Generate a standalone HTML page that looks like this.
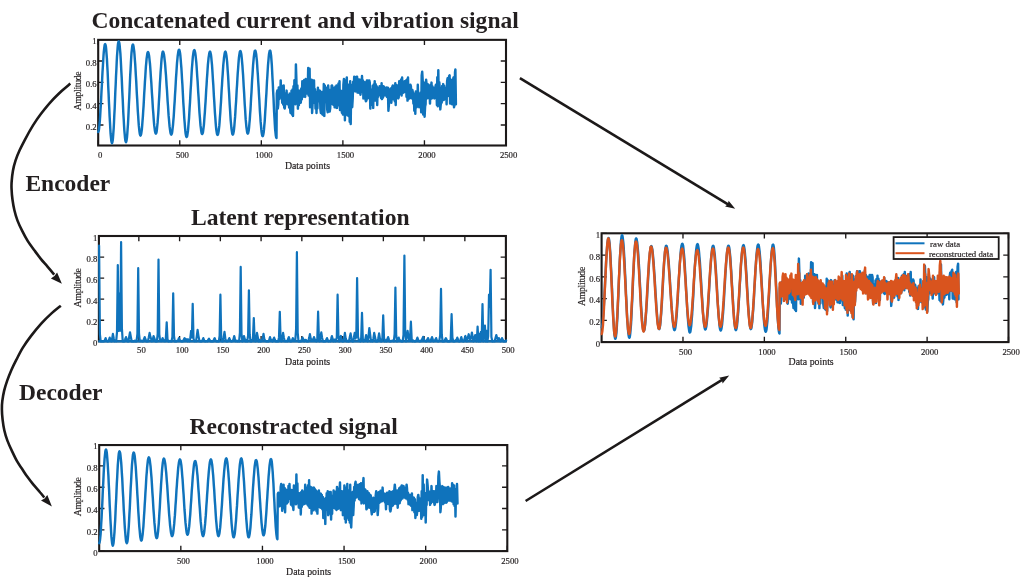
<!DOCTYPE html>
<html><head><meta charset="utf-8"><title>Autoencoder signal reconstruction</title>
<style>
html,body{margin:0;padding:0;background:#fff;}
body{width:1025px;height:582px;overflow:hidden;}
svg{display:block;}
.t{font-family:"Liberation Serif","Times New Roman",serif;font-weight:bold;font-size:23.5px;fill:#231f20;}
.s{font-family:"Liberation Serif","Times New Roman",serif;font-size:8.7px;fill:#231f20;stroke:#231f20;stroke-width:0.18px;}
.l{font-family:"Liberation Serif","Times New Roman",serif;font-size:9.85px;fill:#231f20;stroke:#231f20;stroke-width:0.18px;}
.sig{fill:none;stroke-linejoin:round;stroke-linecap:round;}
</style></head><body>
<svg width="1025" height="582" viewBox="0 0 1025 582">
<rect width="1025" height="582" fill="#fff"/>

<g class="t">
<text x="91.5" y="28" textLength="427.3" lengthAdjust="spacingAndGlyphs">Concatenated current and vibration signal</text>
<text x="25.4" y="190.7">Encoder</text>
<text x="190.9" y="225" textLength="218.7" lengthAdjust="spacingAndGlyphs">Latent representation</text>
<text x="19.0" y="399.5">Decoder</text>
<text x="189.5" y="433.7">Reconstracted signal</text>
</g>
<clipPath id="c1"><rect x="97.0" y="39.35" width="410.20" height="107.35"/></clipPath>
<clipPath id="c2"><rect x="97.89999999999999" y="235.5" width="409.40" height="107.00"/></clipPath>
<clipPath id="c3"><rect x="98.0" y="444.55" width="410.50" height="107.75"/></clipPath>
<clipPath id="c4"><rect x="600.4" y="232.8" width="409.30" height="110.50"/></clipPath>
<g id="plot1">
<rect x="98.2" y="39.85" width="407.80" height="105.65" fill="none" stroke="#1c1919" stroke-width="2.1"/>
<path d="M98.20,145.5v-5.25M98.20,39.85v5.25M179.76,145.5v-5.25M179.76,39.85v5.25M261.32,145.5v-5.25M261.32,39.85v5.25M342.88,145.5v-5.25M342.88,39.85v5.25M424.44,145.5v-5.25M424.44,39.85v5.25M506.00,145.5v-5.25M506.00,39.85v5.25M98.2,125.04h5.25M506.0,125.04h-5.25M98.2,103.68h5.25M506.0,103.68h-5.25M98.2,82.32h5.25M506.0,82.32h-5.25M98.2,60.96h5.25M506.0,60.96h-5.25M98.2,39.60h5.25M506.0,39.60h-5.25" stroke="#1c1919" stroke-width="1.35" fill="none"/>
<path class="sig" clip-path="url(#c1)" d="M98.2,131.9 L98.5,131.4 L98.9,129.9 L99.2,127.5 L99.5,124.3 L99.9,120.2 L100.2,115.4 L100.5,109.9 L100.9,104.0 L101.2,97.8 L101.5,91.3 L101.9,84.7 L102.2,78.2 L102.5,72.0 L102.9,66.1 L103.2,60.7 L103.5,55.8 L103.8,51.8 L104.2,48.5 L104.5,46.1 L104.8,44.6 L105.2,44.1 L105.5,44.7 L105.9,46.6 L106.2,49.5 L106.5,53.6 L106.9,58.6 L107.2,64.5 L107.6,71.2 L107.9,78.3 L108.2,85.9 L108.6,93.6 L108.9,101.4 L109.3,108.9 L109.6,116.1 L110.0,122.7 L110.3,128.6 L110.6,133.7 L111.0,137.7 L111.3,140.7 L111.7,142.5 L112.0,143.1 L112.3,142.5 L112.7,140.6 L113.0,137.6 L113.3,133.4 L113.7,128.2 L114.0,122.2 L114.3,115.3 L114.7,108.0 L115.0,100.2 L115.3,92.2 L115.7,84.3 L116.0,76.5 L116.4,69.1 L116.7,62.3 L117.0,56.3 L117.4,51.1 L117.7,46.9 L118.0,43.9 L118.4,42.0 L118.7,41.4 L119.0,41.9 L119.4,43.4 L119.7,45.9 L120.0,49.4 L120.4,53.7 L120.7,58.8 L121.0,64.5 L121.3,70.8 L121.7,77.6 L122.0,84.6 L122.3,91.8 L122.7,98.9 L123.0,105.9 L123.3,112.7 L123.7,119.0 L124.0,124.7 L124.3,129.8 L124.7,134.1 L125.0,137.6 L125.3,140.1 L125.7,141.6 L126.0,142.1 L126.3,141.6 L126.6,140.0 L127.0,137.3 L127.3,133.7 L127.6,129.1 L128.0,123.8 L128.3,117.7 L128.6,111.2 L128.9,104.2 L129.3,97.0 L129.6,89.7 L129.9,82.5 L130.2,75.5 L130.6,68.9 L130.9,62.9 L131.2,57.6 L131.5,53.0 L131.9,49.4 L132.2,46.7 L132.5,45.1 L132.9,44.5 L133.2,45.0 L133.5,46.2 L133.8,48.3 L134.2,51.2 L134.5,54.7 L134.8,59.0 L135.2,63.8 L135.5,69.1 L135.8,74.8 L136.2,80.8 L136.5,87.0 L136.8,93.2 L137.2,99.3 L137.5,105.3 L137.8,111.0 L138.2,116.3 L138.5,121.2 L138.8,125.4 L139.2,129.0 L139.5,131.8 L139.8,133.9 L140.2,135.2 L140.5,135.6 L140.8,135.2 L141.2,133.9 L141.5,131.8 L141.9,129.0 L142.2,125.4 L142.5,121.2 L142.9,116.4 L143.2,111.2 L143.6,105.6 L143.9,99.8 L144.2,93.8 L144.6,87.9 L144.9,82.1 L145.3,76.5 L145.6,71.2 L145.9,66.5 L146.3,62.3 L146.6,58.7 L147.0,55.8 L147.3,53.7 L147.6,52.5 L148.0,52.0 L148.3,52.4 L148.6,53.4 L149.0,55.2 L149.3,57.5 L149.6,60.5 L150.0,64.0 L150.3,68.0 L150.6,72.4 L150.9,77.2 L151.3,82.3 L151.6,87.5 L151.9,92.8 L152.3,98.2 L152.6,103.4 L152.9,108.5 L153.3,113.2 L153.6,117.7 L153.9,121.7 L154.2,125.2 L154.6,128.2 L154.9,130.5 L155.2,132.2 L155.6,133.3 L155.9,133.6 L156.2,133.2 L156.6,131.8 L156.9,129.6 L157.2,126.5 L157.6,122.7 L157.9,118.2 L158.3,113.1 L158.6,107.6 L158.9,101.8 L159.3,95.7 L159.6,89.6 L159.9,83.5 L160.3,77.7 L160.6,72.1 L161.0,67.1 L161.3,62.6 L161.6,58.8 L162.0,55.7 L162.3,53.5 L162.6,52.1 L163.0,51.6 L163.3,52.0 L163.6,53.0 L164.0,54.6 L164.3,56.8 L164.6,59.6 L165.0,62.9 L165.3,66.7 L165.6,70.9 L166.0,75.5 L166.3,80.3 L166.6,85.4 L167.0,90.5 L167.3,95.7 L167.6,100.9 L168.0,106.0 L168.3,110.8 L168.6,115.4 L169.0,119.6 L169.3,123.4 L169.6,126.7 L170.0,129.5 L170.3,131.7 L170.6,133.3 L171.0,134.3 L171.3,134.6 L171.6,134.2 L172.0,133.1 L172.3,131.1 L172.6,128.4 L173.0,125.1 L173.3,121.1 L173.7,116.6 L174.0,111.7 L174.3,106.4 L174.7,100.8 L175.0,95.0 L175.4,89.2 L175.7,83.5 L176.0,77.9 L176.4,72.6 L176.7,67.7 L177.0,63.2 L177.4,59.2 L177.7,55.9 L178.1,53.2 L178.4,51.2 L178.7,50.1 L179.1,49.7 L179.4,50.1 L179.7,51.3 L180.1,53.3 L180.4,56.0 L180.7,59.5 L181.0,63.5 L181.4,68.2 L181.7,73.2 L182.0,78.7 L182.4,84.5 L182.7,90.4 L183.0,96.3 L183.3,102.2 L183.7,108.0 L184.0,113.4 L184.3,118.5 L184.7,123.1 L185.0,127.2 L185.3,130.6 L185.6,133.4 L186.0,135.4 L186.3,136.6 L186.6,137.0 L187.0,136.6 L187.3,135.4 L187.6,133.4 L188.0,130.7 L188.3,127.2 L188.6,123.2 L189.0,118.6 L189.3,113.5 L189.6,108.1 L190.0,102.4 L190.3,96.5 L190.6,90.6 L191.0,84.7 L191.3,79.0 L191.6,73.5 L191.9,68.5 L192.3,63.9 L192.6,59.8 L192.9,56.4 L193.3,53.7 L193.6,51.7 L193.9,50.5 L194.3,50.1 L194.6,50.4 L194.9,51.5 L195.3,53.3 L195.6,55.7 L195.9,58.7 L196.3,62.4 L196.6,66.5 L196.9,71.1 L197.2,76.0 L197.6,81.2 L197.9,86.6 L198.2,92.0 L198.6,97.5 L198.9,102.9 L199.2,108.1 L199.5,113.0 L199.9,117.6 L200.2,121.7 L200.5,125.4 L200.9,128.4 L201.2,130.8 L201.5,132.6 L201.8,133.7 L202.2,134.0 L202.5,133.6 L202.9,132.5 L203.2,130.6 L203.5,128.0 L203.9,124.8 L204.2,121.0 L204.5,116.6 L204.9,111.8 L205.2,106.6 L205.6,101.2 L205.9,95.7 L206.2,90.0 L206.6,84.5 L206.9,79.0 L207.3,73.9 L207.6,69.1 L207.9,64.7 L208.3,60.9 L208.6,57.6 L209.0,55.1 L209.3,53.2 L209.6,52.0 L210.0,51.6 L210.3,52.0 L210.6,53.2 L211.0,55.1 L211.3,57.7 L211.6,61.0 L212.0,64.9 L212.3,69.3 L212.6,74.2 L212.9,79.4 L213.3,84.9 L213.6,90.5 L213.9,96.2 L214.3,101.8 L214.6,107.3 L214.9,112.5 L215.3,117.4 L215.6,121.8 L215.9,125.7 L216.2,129.0 L216.6,131.6 L216.9,133.5 L217.2,134.6 L217.6,135.0 L217.9,134.6 L218.2,133.5 L218.6,131.6 L218.9,129.0 L219.3,125.7 L219.6,121.8 L219.9,117.4 L220.3,112.5 L220.6,107.3 L221.0,101.8 L221.3,96.2 L221.6,90.5 L222.0,84.9 L222.3,79.4 L222.7,74.2 L223.0,69.3 L223.3,64.9 L223.7,61.0 L224.0,57.7 L224.4,55.1 L224.7,53.2 L225.0,52.0 L225.4,51.6 L225.7,52.1 L226.0,53.3 L226.4,55.4 L226.7,58.2 L227.1,61.8 L227.4,66.0 L227.7,70.7 L228.1,75.9 L228.4,81.4 L228.7,87.2 L229.1,93.1 L229.4,99.0 L229.7,104.8 L230.1,110.4 L230.4,115.6 L230.7,120.3 L231.1,124.5 L231.4,128.0 L231.8,130.9 L232.1,132.9 L232.4,134.2 L232.8,134.6 L233.1,134.2 L233.4,133.1 L233.8,131.2 L234.1,128.5 L234.4,125.3 L234.7,121.4 L235.1,116.9 L235.4,112.1 L235.7,106.8 L236.1,101.3 L236.4,95.7 L236.7,90.0 L237.1,84.3 L237.4,78.8 L237.7,73.6 L238.1,68.7 L238.4,64.3 L238.7,60.4 L239.0,57.1 L239.4,54.5 L239.7,52.6 L240.0,51.4 L240.4,51.1 L240.7,51.5 L241.0,52.7 L241.4,54.8 L241.7,57.6 L242.0,61.1 L242.4,65.3 L242.7,70.0 L243.1,75.2 L243.4,80.7 L243.7,86.5 L244.1,92.3 L244.4,98.2 L244.7,104.0 L245.1,109.5 L245.4,114.7 L245.7,119.4 L246.1,123.6 L246.4,127.1 L246.8,129.9 L247.1,132.0 L247.4,133.2 L247.8,133.6 L248.1,133.2 L248.4,132.0 L248.8,129.9 L249.1,127.0 L249.4,123.5 L249.8,119.3 L250.1,114.5 L250.5,109.3 L250.8,103.8 L251.1,98.0 L251.5,92.0 L251.8,86.1 L252.1,80.3 L252.5,74.8 L252.8,69.6 L253.1,64.8 L253.5,60.6 L253.8,57.1 L254.2,54.2 L254.5,52.1 L254.8,50.9 L255.2,50.5 L255.5,50.9 L255.8,52.2 L256.2,54.3 L256.5,57.3 L256.9,60.9 L257.2,65.3 L257.5,70.2 L257.9,75.5 L258.2,81.3 L258.6,87.2 L258.9,93.3 L259.3,99.4 L259.6,105.4 L259.9,111.1 L260.3,116.5 L260.6,121.4 L261.0,125.7 L261.3,129.4 L261.6,132.3 L262.0,134.5 L262.3,135.8 L262.7,136.2 L263.0,135.8 L263.3,134.5 L263.7,132.3 L264.0,129.4 L264.3,125.7 L264.7,121.4 L265.0,116.5 L265.3,111.1 L265.7,105.4 L266.0,99.4 L266.4,93.3 L266.7,87.2 L267.0,81.3 L267.4,75.5 L267.7,70.2 L268.0,65.3 L268.4,60.9 L268.7,57.3 L269.0,54.3 L269.4,52.2 L269.7,50.9 L270.1,50.5 L270.4,51.1 L270.7,52.8 L271.1,55.7 L271.4,59.7 L271.8,64.6 L272.1,70.3 L272.4,76.6 L272.8,83.5 L273.1,90.6 L273.5,97.8 L273.8,105.0 L274.1,111.8 L274.5,118.2 L274.8,123.9 L275.1,128.8 L275.5,132.7 L275.8,135.6 L276.2,137.4 L276.5,138.0 L276.8,93.5 L277.3,90.6 L277.8,108.6 L278.3,104.3 L278.8,87.4 L279.3,99.1 L279.8,88.3 L280.3,95.4 L280.7,80.4 L281.2,97.4 L281.7,88.2 L282.2,102.8 L282.7,86.1 L283.2,104.5 L283.7,85.5 L284.2,107.3 L284.7,108.6 L285.2,104.6 L285.6,93.2 L286.1,103.0 L286.6,90.6 L287.1,103.2 L287.6,104.2 L288.1,102.1 L288.6,94.9 L289.1,107.4 L289.6,93.6 L290.0,106.9 L290.5,113.0 L291.0,112.7 L291.5,90.7 L292.0,114.5 L292.5,89.5 L293.0,115.9 L293.5,86.3 L294.0,102.5 L294.4,80.3 L294.9,101.5 L295.4,104.2 L295.9,64.4 L296.4,80.3 L296.9,102.0 L297.4,85.5 L297.9,108.6 L298.4,92.0 L298.9,105.3 L299.3,90.6 L299.8,100.6 L300.3,91.0 L300.8,102.8 L301.3,88.4 L301.8,99.5 L302.3,81.2 L302.8,96.9 L303.3,83.4 L303.7,93.3 L304.2,80.1 L304.7,96.7 L305.2,96.9 L305.7,79.0 L306.2,80.8 L306.7,93.6 L307.2,92.6 L307.7,91.7 L308.2,68.0 L308.6,95.5 L309.1,79.8 L309.6,68.7 L310.1,107.2 L310.6,101.2 L311.1,81.2 L311.6,79.7 L312.1,113.0 L312.6,103.4 L313.0,80.6 L313.5,96.8 L314.0,80.4 L314.5,102.8 L315.0,89.3 L315.5,108.5 L316.0,91.6 L316.5,113.0 L317.0,92.7 L317.4,108.2 L317.9,87.7 L318.4,101.3 L318.9,101.3 L319.4,100.4 L319.9,90.6 L320.4,109.1 L320.9,113.0 L321.4,109.4 L321.9,92.1 L322.3,114.2 L322.8,91.8 L323.3,114.9 L323.8,84.1 L324.3,115.9 L324.8,85.5 L325.3,102.8 L325.8,91.6 L326.3,87.7 L326.7,89.1 L327.2,109.6 L327.7,112.3 L328.2,85.5 L328.7,93.4 L329.2,107.1 L329.7,111.5 L330.2,108.3 L330.7,89.7 L331.2,103.1 L331.6,85.7 L332.1,85.5 L332.6,104.2 L333.1,104.6 L333.6,89.6 L334.1,87.7 L334.6,107.2 L335.1,107.2 L335.6,86.4 L336.0,107.4 L336.5,85.5 L337.0,107.9 L337.5,89.8 L338.0,105.3 L338.5,83.4 L339.0,103.9 L339.5,81.2 L340.0,110.1 L340.4,95.0 L340.9,90.6 L341.4,92.0 L341.9,112.8 L342.4,92.3 L342.9,114.5 L343.4,84.5 L343.9,79.0 L344.4,87.6 L344.9,120.3 L345.3,80.8 L345.8,115.2 L346.3,81.3 L346.8,77.5 L347.3,111.5 L347.8,112.5 L348.3,115.9 L348.8,84.8 L349.3,87.6 L349.7,121.8 L350.2,81.2 L350.7,124.0 L351.2,84.7 L351.7,86.3 L352.2,107.2 L352.7,98.8 L353.2,81.7 L353.7,90.2 L354.2,76.8 L354.6,91.1 L355.1,77.1 L355.6,91.4 L356.1,77.0 L356.6,89.6 L357.1,76.8 L357.6,92.6 L358.1,79.3 L358.6,89.3 L359.0,79.7 L359.5,93.0 L360.0,79.6 L360.5,94.8 L361.0,81.6 L361.5,92.2 L362.0,76.0 L362.5,91.4 L363.0,80.4 L363.4,98.4 L363.9,82.6 L364.4,95.2 L364.9,82.2 L365.4,98.9 L365.9,101.3 L366.4,100.6 L366.9,80.4 L367.4,80.4 L367.9,98.4 L368.3,93.9 L368.8,80.6 L369.3,80.4 L369.8,82.7 L370.3,108.6 L370.8,89.9 L371.3,105.0 L371.8,89.5 L372.3,101.7 L372.7,85.8 L373.2,107.9 L373.7,84.5 L374.2,98.6 L374.7,81.2 L375.2,100.6 L375.7,84.1 L376.2,98.0 L376.7,86.3 L377.2,105.0 L377.6,88.7 L378.1,96.9 L378.6,87.8 L379.1,95.1 L379.6,86.3 L380.1,94.6 L380.6,88.2 L381.1,98.3 L381.6,83.3 L382.0,99.1 L382.5,88.1 L383.0,97.6 L383.5,86.2 L384.0,87.0 L384.5,88.7 L385.0,95.5 L385.5,88.3 L386.0,95.5 L386.4,87.5 L386.9,96.9 L387.4,87.9 L387.9,87.7 L388.4,110.8 L388.9,104.7 L389.4,91.0 L389.9,100.7 L390.4,88.7 L390.9,88.5 L391.3,102.8 L391.8,97.7 L392.3,86.8 L392.8,85.5 L393.3,98.4 L393.8,99.3 L394.3,87.0 L394.8,101.3 L395.3,83.3 L395.7,105.0 L396.2,84.9 L396.7,97.1 L397.2,85.5 L397.7,94.6 L398.2,98.4 L398.7,97.4 L399.2,81.2 L399.7,94.1 L400.2,81.9 L400.6,94.0 L401.1,79.4 L401.6,95.5 L402.1,77.5 L402.6,93.2 L403.1,83.5 L403.6,92.6 L404.1,81.9 L404.6,81.2 L405.0,91.8 L405.5,90.7 L406.0,80.4 L406.5,96.7 L407.0,79.4 L407.5,100.6 L408.0,77.5 L408.5,99.2 L409.0,84.8 L409.4,98.4 L409.9,86.7 L410.4,84.8 L410.9,86.1 L411.4,98.3 L411.9,98.4 L412.4,89.9 L412.9,92.8 L413.4,103.4 L413.9,96.1 L414.3,110.6 L414.8,93.6 L415.3,113.7 L415.8,91.5 L416.3,104.0 L416.8,107.2 L417.3,105.8 L417.8,84.8 L418.3,104.1 L418.7,94.4 L419.2,107.2 L419.7,93.6 L420.2,106.5 L420.7,92.5 L421.2,112.3 L421.7,75.3 L422.2,71.7 L422.7,80.2 L423.2,114.5 L423.6,82.3 L424.1,84.8 L424.6,116.7 L425.1,106.6 L425.6,104.2 L426.1,79.7 L426.6,84.3 L427.1,98.4 L427.6,83.9 L428.0,84.8 L428.5,87.9 L429.0,98.1 L429.5,87.7 L430.0,103.5 L430.5,84.7 L431.0,94.4 L431.5,82.6 L432.0,98.4 L432.4,86.3 L432.9,87.7 L433.4,88.2 L433.9,96.3 L434.4,98.4 L434.9,96.9 L435.4,86.9 L435.9,84.8 L436.4,85.0 L436.9,105.0 L437.3,77.2 L437.8,106.2 L438.3,70.2 L438.8,103.0 L439.3,82.3 L439.8,89.2 L440.3,109.4 L440.8,103.9 L441.3,92.5 L441.7,102.8 L442.2,85.9 L442.7,99.8 L443.2,84.1 L443.7,100.1 L444.2,85.7 L444.7,99.1 L445.2,87.7 L445.7,99.1 L446.2,88.1 L446.6,104.2 L447.1,81.2 L447.6,78.2 L448.1,85.8 L448.6,96.0 L449.1,76.2 L449.6,75.3 L450.1,103.5 L450.6,99.5 L451.0,79.6 L451.5,81.2 L452.0,104.2 L452.5,104.3 L453.0,80.5 L453.5,77.5 L454.0,107.2 L454.5,104.9 L455.0,72.2 L455.4,69.5 L455.9,104.2" stroke="#0f73bc" stroke-width="2.45"/>
<g class="s"><text x="100.1" y="157.8" text-anchor="middle">0</text>
<text x="182.4" y="157.8" text-anchor="middle">500</text>
<text x="263.9" y="157.8" text-anchor="middle">1000</text>
<text x="345.5" y="157.8" text-anchor="middle">1500</text>
<text x="427.0" y="157.8" text-anchor="middle">2000</text>
<text x="508.6" y="157.8" text-anchor="middle">2500</text><text x="96.7" y="129.8" text-anchor="end">0.2</text>
<text x="96.7" y="108.5" text-anchor="end">0.4</text>
<text x="96.7" y="87.1" text-anchor="end">0.6</text>
<text x="96.7" y="65.8" text-anchor="end">0.8</text>
<text x="96.7" y="44.4" text-anchor="end">1</text>
</g><g class="l"><text x="284.9" y="168.9">Data points</text>
<text transform="translate(80.7,110.6) rotate(-90)" textLength="39.3" lengthAdjust="spacing">Amplitude</text></g>
</g>
<g id="plot2">
<rect x="98.9" y="236.0" width="407.00" height="105.30" fill="none" stroke="#1c1919" stroke-width="2.1"/>
<path d="M138.84,341.3v-5.25M138.84,236.0v5.25M179.59,341.3v-5.25M179.59,236.0v5.25M220.34,341.3v-5.25M220.34,236.0v5.25M261.09,341.3v-5.25M261.09,236.0v5.25M301.84,341.3v-5.25M301.84,236.0v5.25M342.59,341.3v-5.25M342.59,236.0v5.25M383.35,341.3v-5.25M383.35,236.0v5.25M424.10,341.3v-5.25M424.10,236.0v5.25M464.85,341.3v-5.25M464.85,236.0v5.25M98.9,341.30h5.25M505.9,341.30h-5.25M98.9,320.24h5.25M505.9,320.24h-5.25M98.9,299.18h5.25M505.9,299.18h-5.25M98.9,278.12h5.25M505.9,278.12h-5.25M98.9,257.06h5.25M505.9,257.06h-5.25M98.9,236.00h5.25M505.9,236.00h-5.25" stroke="#1c1919" stroke-width="1.35" fill="none"/>
<path d="M98.2,341.3H506.7" stroke="#0f73bc" stroke-width="2.2" fill="none"/>
<path class="sig" d="M99.1,245.5 L99.9,334.2 L100.7,341.3 L101.5,341.3 L102.4,341.3 L103.2,341.3 L104.0,341.3 L104.8,340.1 L105.6,338.1 L106.4,340.4 L107.2,341.3 L108.1,341.3 L108.9,340.1 L109.7,337.6 L110.5,339.6 L111.3,341.3 L112.1,339.0 L112.9,333.9 L113.8,338.7 L114.6,341.3 L115.4,340.5 L116.2,341.3 L117.0,332.2 L117.8,265.0 L118.6,331.0 L119.4,293.9 L120.3,330.7 L121.1,242.0 L121.9,328.1 L122.7,341.3 L123.5,341.3 L124.3,341.3 L125.1,339.5 L126.0,337.1 L126.8,339.5 L127.6,341.3 L128.4,341.3 L129.2,336.7 L130.0,332.3 L130.8,336.8 L131.7,341.3 L132.5,341.3 L133.3,341.3 L134.1,341.3 L134.9,340.6 L135.7,341.3 L136.5,341.3 L137.4,333.8 L138.2,268.2 L139.0,333.4 L139.8,341.2 L140.6,341.1 L141.4,340.6 L142.2,341.3 L143.1,341.3 L143.9,339.1 L144.7,337.1 L145.5,339.1 L146.3,341.3 L147.1,341.3 L147.9,341.3 L148.8,337.2 L149.6,332.9 L150.4,336.9 L151.2,339.2 L152.0,341.3 L152.8,339.5 L153.6,336.0 L154.5,338.6 L155.3,341.3 L156.1,341.3 L156.9,341.3 L157.7,333.5 L158.5,259.5 L159.3,334.3 L160.1,340.6 L161.0,341.2 L161.8,340.0 L162.6,338.1 L163.4,339.9 L164.2,341.1 L165.0,341.3 L165.8,338.7 L166.7,322.3 L167.5,339.1 L168.3,341.3 L169.1,341.3 L169.9,340.9 L170.7,341.3 L171.5,341.3 L172.4,336.9 L173.2,293.3 L174.0,336.0 L174.8,341.3 L175.6,341.3 L176.4,341.3 L177.2,340.8 L178.1,340.4 L178.9,338.1 L179.7,340.1 L180.5,340.8 L181.3,341.3 L182.1,341.3 L182.9,341.3 L183.8,339.6 L184.6,338.1 L185.4,339.6 L186.2,339.7 L187.0,339.1 L187.8,341.3 L188.6,339.5 L189.5,341.3 L190.3,338.2 L191.1,330.8 L191.9,337.5 L192.7,303.9 L193.5,338.5 L194.3,341.3 L195.2,341.1 L196.0,341.3 L196.8,336.1 L197.6,329.9 L198.4,335.6 L199.2,339.6 L200.0,341.3 L200.8,341.3 L201.7,341.3 L202.5,340.1 L203.3,338.1 L204.1,340.2 L204.9,341.3 L205.7,341.3 L206.5,341.0 L207.4,341.3 L208.2,339.9 L209.0,338.7 L209.8,340.2 L210.6,341.3 L211.4,341.3 L212.2,341.3 L213.1,341.3 L213.9,339.6 L214.7,338.1 L215.5,340.4 L216.3,341.3 L217.1,341.3 L217.9,341.3 L218.8,341.3 L219.6,335.9 L220.4,294.7 L221.2,337.4 L222.0,341.3 L222.8,341.3 L223.6,337.7 L224.5,331.8 L225.3,338.2 L226.1,341.3 L226.9,341.3 L227.7,341.3 L228.5,339.9 L229.3,338.1 L230.2,340.2 L231.0,341.3 L231.8,341.3 L232.6,341.1 L233.4,339.5 L234.2,336.0 L235.0,339.1 L235.9,341.3 L236.7,340.8 L237.5,341.3 L238.3,340.8 L239.1,341.3 L239.9,332.5 L240.7,266.9 L241.5,333.8 L242.4,341.3 L243.2,339.9 L244.0,336.0 L244.8,339.2 L245.6,341.3 L246.4,340.1 L247.2,341.3 L248.1,335.6 L248.9,290.3 L249.7,334.4 L250.5,341.3 L251.3,341.3 L252.1,340.0 L252.9,339.2 L253.8,318.1 L254.6,339.2 L255.4,341.3 L256.2,338.9 L257.0,332.9 L257.8,337.1 L258.6,341.3 L259.5,340.0 L260.3,341.3 L261.1,341.3 L261.9,339.9 L262.7,338.7 L263.5,333.9 L264.3,339.0 L265.2,340.5 L266.0,341.3 L266.8,341.3 L267.6,341.3 L268.4,341.3 L269.2,340.0 L270.0,337.1 L270.9,340.1 L271.7,340.0 L272.5,341.3 L273.3,339.4 L274.1,337.6 L274.9,339.8 L275.7,341.3 L276.6,341.3 L277.4,341.3 L278.2,341.3 L279.0,337.4 L279.8,311.9 L280.6,339.1 L281.4,341.3 L282.2,338.7 L283.1,332.9 L283.9,337.8 L284.7,341.1 L285.5,341.3 L286.3,341.1 L287.1,341.3 L287.9,339.4 L288.8,337.1 L289.6,339.4 L290.4,341.3 L291.2,341.3 L292.0,340.3 L292.8,338.1 L293.6,339.9 L294.5,340.3 L295.3,340.4 L296.1,328.9 L296.9,252.2 L297.7,332.7 L298.5,341.3 L299.3,341.3 L300.2,341.3 L301.0,341.3 L301.8,339.4 L302.6,337.6 L303.4,339.5 L304.2,341.3 L305.0,340.1 L305.9,339.9 L306.7,341.3 L307.5,341.3 L308.3,341.3 L309.1,338.1 L309.9,334.2 L310.7,338.5 L311.6,340.3 L312.4,339.7 L313.2,339.9 L314.0,337.1 L314.8,339.3 L315.6,340.6 L316.4,341.3 L317.3,339.1 L318.1,311.7 L318.9,338.7 L319.7,341.3 L320.5,337.4 L321.3,332.3 L322.1,337.7 L323.0,341.3 L323.8,341.3 L324.6,341.3 L325.4,341.3 L326.2,339.8 L327.0,338.1 L327.8,340.1 L328.6,341.3 L329.5,341.0 L330.3,341.3 L331.1,338.8 L331.9,336.0 L332.7,339.0 L333.5,341.3 L334.3,339.6 L335.2,341.3 L336.0,339.9 L336.8,337.7 L337.6,294.7 L338.4,335.1 L339.2,341.3 L340.0,338.8 L340.9,336.0 L341.7,339.8 L342.5,341.3 L343.3,341.3 L344.1,338.6 L344.9,332.9 L345.7,338.3 L346.6,341.3 L347.4,340.8 L348.2,341.3 L349.0,341.3 L349.8,337.0 L350.6,333.4 L351.4,338.2 L352.3,341.3 L353.1,341.3 L353.9,337.5 L354.7,332.9 L355.5,338.6 L356.3,336.5 L357.1,278.1 L358.0,336.5 L358.8,339.9 L359.6,340.1 L360.4,341.3 L361.2,338.0 L362.0,312.9 L362.8,338.8 L363.6,341.3 L364.5,340.8 L365.3,339.2 L366.1,335.0 L366.9,338.9 L367.7,341.3 L368.5,336.5 L369.3,328.0 L370.2,334.9 L371.0,341.3 L371.8,339.9 L372.6,341.3 L373.4,338.7 L374.2,332.9 L375.0,336.9 L375.9,341.3 L376.7,341.2 L377.5,341.3 L378.3,338.3 L379.1,333.4 L379.9,338.4 L380.7,341.3 L381.6,341.3 L382.4,338.2 L383.2,315.3 L384.0,337.7 L384.8,341.3 L385.6,340.3 L386.4,341.3 L387.3,339.1 L388.1,337.1 L388.9,339.4 L389.7,341.3 L390.5,341.3 L391.3,341.2 L392.1,340.6 L393.0,340.9 L393.8,341.3 L394.6,334.2 L395.4,287.5 L396.2,335.2 L397.0,341.3 L397.8,339.5 L398.7,337.6 L399.5,340.2 L400.3,340.3 L401.1,341.3 L401.9,341.3 L402.7,341.3 L403.5,334.8 L404.4,255.5 L405.2,332.1 L406.0,341.3 L406.8,336.7 L407.6,330.8 L408.4,336.1 L409.2,340.6 L410.0,339.6 L410.9,321.7 L411.7,339.2 L412.5,341.3 L413.3,340.5 L414.1,341.3 L414.9,341.3 L415.7,341.3 L416.6,340.0 L417.4,337.6 L418.2,339.9 L419.0,341.2 L419.8,341.3 L420.6,341.2 L421.4,340.3 L422.3,338.9 L423.1,336.8 L423.9,339.6 L424.7,340.5 L425.5,341.2 L426.3,341.3 L427.1,339.9 L428.0,338.1 L428.8,339.7 L429.6,341.1 L430.4,341.3 L431.2,339.2 L432.0,337.1 L432.8,339.4 L433.7,341.3 L434.5,340.5 L435.3,339.8 L436.1,338.1 L436.9,340.4 L437.7,341.3 L438.5,341.3 L439.4,340.2 L440.2,335.1 L441.0,288.9 L441.8,334.9 L442.6,341.3 L443.4,341.2 L444.2,341.3 L445.0,339.7 L445.9,338.1 L446.7,339.8 L447.5,341.3 L448.3,341.3 L449.1,341.3 L449.9,341.3 L450.7,339.3 L451.6,314.2 L452.4,337.6 L453.2,341.3 L454.0,341.3 L454.8,341.3 L455.6,340.1 L456.4,340.1 L457.3,337.6 L458.1,339.7 L458.9,341.3 L459.7,341.3 L460.5,339.6 L461.3,337.1 L462.1,340.1 L463.0,341.3 L463.8,341.3 L464.6,338.6 L465.4,336.0 L466.2,338.8 L467.0,341.3 L467.8,337.8 L468.7,334.2 L469.5,337.9 L470.3,339.9 L471.1,337.5 L471.9,332.5 L472.7,337.2 L473.5,341.3 L474.4,338.2 L475.2,335.0 L476.0,339.0 L476.8,341.3 L477.6,326.5 L478.4,341.3 L479.2,333.9 L480.1,341.3 L480.9,331.8 L481.7,339.2 L482.5,304.1 L483.3,341.3 L484.1,328.7 L484.9,325.5 L485.8,341.3 L486.6,330.8 L487.4,341.3 L488.2,336.0 L489.0,294.7 L489.8,306.6 L490.6,269.8 L491.4,337.1 L492.3,341.3 L493.1,341.3 L493.9,340.9 L494.7,341.3 L495.5,338.0 L496.3,335.0 L497.1,338.0 L498.0,339.9 L498.8,338.1 L499.6,339.7 L500.4,341.3 L501.2,340.2 L502.0,338.1 L502.8,339.9 L503.7,341.3 L504.5,341.3 L505.3,341.3 L506.1,340.4" stroke="#0f73bc" stroke-width="2.2"/>
<g class="s"><text x="141.4" y="353.0" text-anchor="middle">50</text>
<text x="182.2" y="353.0" text-anchor="middle">100</text>
<text x="222.9" y="353.0" text-anchor="middle">150</text>
<text x="263.7" y="353.0" text-anchor="middle">200</text>
<text x="304.4" y="353.0" text-anchor="middle">250</text>
<text x="345.2" y="353.0" text-anchor="middle">300</text>
<text x="385.9" y="353.0" text-anchor="middle">350</text>
<text x="426.7" y="353.0" text-anchor="middle">400</text>
<text x="467.4" y="353.0" text-anchor="middle">450</text>
<text x="508.2" y="353.0" text-anchor="middle">500</text><text x="97.4" y="346.1" text-anchor="end">0</text>
<text x="97.4" y="325.0" text-anchor="end">0.2</text>
<text x="97.4" y="304.0" text-anchor="end">0.4</text>
<text x="97.4" y="282.9" text-anchor="end">0.6</text>
<text x="97.4" y="261.9" text-anchor="end">0.8</text>
<text x="97.4" y="240.8" text-anchor="end">1</text>
</g><g class="l"><text x="285.1" y="364.9">Data points</text>
<text transform="translate(81.0,307.4) rotate(-90)" textLength="39.3" lengthAdjust="spacing">Amplitude</text></g>
</g>
<g id="plot3">
<rect x="99.2" y="445.05" width="408.10" height="106.05" fill="none" stroke="#1c1919" stroke-width="2.1"/>
<path d="M180.82,551.1v-5.25M180.82,445.05v5.25M262.44,551.1v-5.25M262.44,445.05v5.25M344.06,551.1v-5.25M344.06,445.05v5.25M425.68,551.1v-5.25M425.68,445.05v5.25M507.30,551.1v-5.25M507.30,445.05v5.25M99.2,551.10h5.25M507.3,551.10h-5.25M99.2,529.80h5.25M507.3,529.80h-5.25M99.2,508.50h5.25M507.3,508.50h-5.25M99.2,487.20h5.25M507.3,487.20h-5.25M99.2,465.90h5.25M507.3,465.90h-5.25M99.2,444.60h5.25M507.3,444.60h-5.25" stroke="#1c1919" stroke-width="1.35" fill="none"/>
<path class="sig" clip-path="url(#c3)" d="M99.2,543.1 L99.5,542.5 L99.9,540.8 L100.2,538.0 L100.6,534.2 L100.9,529.4 L101.2,523.8 L101.6,517.6 L101.9,510.8 L102.3,503.6 L102.6,496.3 L102.9,489.0 L103.3,481.9 L103.6,475.1 L103.9,468.8 L104.3,463.2 L104.6,458.5 L105.0,454.6 L105.3,451.8 L105.6,450.1 L106.0,449.5 L106.3,450.1 L106.7,451.9 L107.0,454.8 L107.3,458.7 L107.7,463.6 L108.0,469.3 L108.4,475.7 L108.7,482.7 L109.1,490.0 L109.4,497.5 L109.7,505.1 L110.1,512.4 L110.4,519.3 L110.8,525.8 L111.1,531.5 L111.4,536.4 L111.8,540.3 L112.1,543.2 L112.5,545.0 L112.8,545.6 L113.1,545.0 L113.5,543.3 L113.8,540.4 L114.1,536.6 L114.5,531.8 L114.8,526.1 L115.2,519.8 L115.5,513.0 L115.8,505.8 L116.2,498.4 L116.5,491.1 L116.8,483.9 L117.2,477.0 L117.5,470.7 L117.8,465.1 L118.2,460.3 L118.5,456.4 L118.8,453.6 L119.2,451.9 L119.5,451.3 L119.8,451.8 L120.2,453.2 L120.5,455.5 L120.8,458.6 L121.2,462.5 L121.5,467.2 L121.8,472.4 L122.2,478.2 L122.5,484.3 L122.8,490.7 L123.2,497.2 L123.5,503.8 L123.8,510.2 L124.2,516.3 L124.5,522.1 L124.8,527.3 L125.2,532.0 L125.5,535.9 L125.8,539.0 L126.1,541.3 L126.5,542.7 L126.8,543.2 L127.1,542.7 L127.5,541.2 L127.8,538.7 L128.1,535.3 L128.4,531.1 L128.8,526.1 L129.1,520.5 L129.4,514.4 L129.8,507.9 L130.1,501.2 L130.4,494.5 L130.7,487.8 L131.1,481.3 L131.4,475.2 L131.7,469.6 L132.0,464.6 L132.4,460.4 L132.7,457.0 L133.0,454.5 L133.4,453.0 L133.7,452.5 L134.0,452.9 L134.3,454.1 L134.7,456.1 L135.0,458.9 L135.3,462.4 L135.7,466.5 L136.0,471.1 L136.3,476.3 L136.7,481.8 L137.0,487.6 L137.3,493.5 L137.7,499.6 L138.0,505.5 L138.3,511.3 L138.7,516.8 L139.0,522.0 L139.3,526.6 L139.7,530.7 L140.0,534.2 L140.3,537.0 L140.7,539.0 L141.0,540.2 L141.3,540.6 L141.7,540.2 L142.0,538.9 L142.3,536.9 L142.7,534.0 L143.0,530.5 L143.4,526.3 L143.7,521.5 L144.0,516.3 L144.4,510.7 L144.7,504.9 L145.1,499.0 L145.4,493.1 L145.8,487.3 L146.1,481.8 L146.4,476.5 L146.8,471.8 L147.1,467.6 L147.5,464.0 L147.8,461.2 L148.1,459.1 L148.5,457.9 L148.8,457.4 L149.2,457.8 L149.5,458.8 L149.8,460.5 L150.1,462.9 L150.5,465.8 L150.8,469.3 L151.1,473.2 L151.5,477.6 L151.8,482.4 L152.1,487.4 L152.4,492.6 L152.8,497.8 L153.1,503.1 L153.4,508.3 L153.8,513.3 L154.1,518.0 L154.4,522.4 L154.8,526.4 L155.1,529.9 L155.4,532.8 L155.7,535.2 L156.1,536.9 L156.4,537.9 L156.7,538.2 L157.1,537.8 L157.4,536.5 L157.7,534.3 L158.1,531.3 L158.4,527.6 L158.8,523.3 L159.1,518.3 L159.4,513.0 L159.8,507.3 L160.1,501.4 L160.4,495.5 L160.8,489.6 L161.1,483.9 L161.5,478.5 L161.8,473.6 L162.1,469.3 L162.5,465.5 L162.8,462.6 L163.2,460.4 L163.5,459.1 L163.8,458.6 L164.2,458.9 L164.5,459.8 L164.8,461.3 L165.2,463.4 L165.5,466.0 L165.8,469.1 L166.2,472.7 L166.5,476.6 L166.8,480.9 L167.2,485.4 L167.5,490.1 L167.8,494.9 L168.1,499.8 L168.5,504.6 L168.8,509.3 L169.1,513.8 L169.5,518.1 L169.8,522.0 L170.1,525.6 L170.5,528.7 L170.8,531.3 L171.1,533.3 L171.5,534.8 L171.8,535.8 L172.1,536.1 L172.5,535.7 L172.8,534.6 L173.2,532.9 L173.5,530.5 L173.8,527.5 L174.2,523.9 L174.5,519.8 L174.9,515.4 L175.2,510.6 L175.5,505.5 L175.9,500.4 L176.2,495.1 L176.5,489.9 L176.9,484.9 L177.2,480.1 L177.6,475.6 L177.9,471.6 L178.2,468.0 L178.6,465.0 L178.9,462.6 L179.3,460.8 L179.6,459.8 L179.9,459.4 L180.3,459.8 L180.6,460.8 L180.9,462.5 L181.3,464.9 L181.6,467.9 L181.9,471.4 L182.2,475.3 L182.6,479.7 L182.9,484.4 L183.2,489.4 L183.6,494.5 L183.9,499.6 L184.2,504.7 L184.5,509.7 L184.9,514.4 L185.2,518.8 L185.5,522.7 L185.9,526.2 L186.2,529.2 L186.5,531.6 L186.8,533.3 L187.2,534.3 L187.5,534.7 L187.8,534.3 L188.2,533.3 L188.5,531.6 L188.8,529.3 L189.2,526.4 L189.5,523.0 L189.8,519.1 L190.2,514.8 L190.5,510.2 L190.8,505.3 L191.2,500.4 L191.5,495.3 L191.8,490.3 L192.2,485.5 L192.5,480.9 L192.8,476.6 L193.2,472.7 L193.5,469.3 L193.8,466.4 L194.1,464.0 L194.5,462.4 L194.8,461.3 L195.1,461.0 L195.5,461.3 L195.8,462.3 L196.1,463.9 L196.5,466.0 L196.8,468.8 L197.1,472.0 L197.5,475.7 L197.8,479.8 L198.1,484.2 L198.4,488.8 L198.8,493.6 L199.1,498.5 L199.4,503.4 L199.8,508.2 L200.1,512.9 L200.4,517.3 L200.7,521.4 L201.1,525.1 L201.4,528.3 L201.7,531.0 L202.1,533.2 L202.4,534.8 L202.7,535.7 L203.1,536.1 L203.4,535.7 L203.7,534.6 L204.1,532.9 L204.4,530.5 L204.7,527.5 L205.1,523.9 L205.4,519.8 L205.8,515.4 L206.1,510.6 L206.4,505.5 L206.8,500.4 L207.1,495.1 L207.5,489.9 L207.8,484.9 L208.1,480.1 L208.5,475.6 L208.8,471.6 L209.2,468.0 L209.5,465.0 L209.8,462.6 L210.2,460.8 L210.5,459.8 L210.9,459.4 L211.2,459.8 L211.5,460.8 L211.8,462.6 L212.2,465.0 L212.5,468.0 L212.8,471.6 L213.2,475.6 L213.5,480.1 L213.8,484.9 L214.2,489.9 L214.5,495.1 L214.8,500.4 L215.2,505.5 L215.5,510.6 L215.8,515.4 L216.1,519.8 L216.5,523.9 L216.8,527.5 L217.1,530.5 L217.5,532.9 L217.8,534.6 L218.1,535.7 L218.5,536.1 L218.8,535.7 L219.1,534.6 L219.5,532.9 L219.8,530.4 L220.2,527.4 L220.5,523.7 L220.8,519.6 L221.2,515.1 L221.5,510.2 L221.9,505.1 L222.2,499.9 L222.5,494.6 L222.9,489.3 L223.2,484.2 L223.5,479.4 L223.9,474.9 L224.2,470.8 L224.6,467.1 L224.9,464.1 L225.2,461.6 L225.6,459.9 L225.9,458.8 L226.3,458.4 L226.6,458.8 L226.9,460.0 L227.3,462.0 L227.6,464.7 L227.9,468.1 L228.3,472.0 L228.6,476.5 L229.0,481.5 L229.3,486.7 L229.6,492.2 L230.0,497.8 L230.3,503.4 L230.6,508.9 L231.0,514.2 L231.3,519.1 L231.6,523.6 L232.0,527.6 L232.3,531.0 L232.7,533.7 L233.0,535.7 L233.3,536.9 L233.7,537.3 L234.0,536.9 L234.3,535.8 L234.7,534.0 L235.0,531.5 L235.3,528.4 L235.6,524.7 L236.0,520.6 L236.3,516.0 L236.6,511.0 L237.0,505.9 L237.3,500.5 L237.6,495.2 L238.0,489.8 L238.3,484.6 L238.6,479.7 L239.0,475.1 L239.3,470.9 L239.6,467.3 L239.9,464.2 L240.3,461.7 L240.6,459.9 L240.9,458.8 L241.3,458.4 L241.6,458.8 L241.9,460.0 L242.3,462.0 L242.6,464.7 L243.0,468.1 L243.3,472.0 L243.6,476.5 L244.0,481.5 L244.3,486.7 L244.6,492.2 L245.0,497.8 L245.3,503.4 L245.6,508.9 L246.0,514.2 L246.3,519.1 L246.7,523.6 L247.0,527.6 L247.3,531.0 L247.7,533.7 L248.0,535.7 L248.3,536.9 L248.7,537.3 L249.0,536.9 L249.3,535.7 L249.7,533.8 L250.0,531.1 L250.4,527.8 L250.7,523.9 L251.0,519.5 L251.4,514.7 L251.7,509.5 L252.0,504.1 L252.4,498.6 L252.7,493.1 L253.0,487.8 L253.4,482.6 L253.7,477.8 L254.1,473.3 L254.4,469.4 L254.7,466.1 L255.1,463.5 L255.4,461.6 L255.7,460.4 L256.1,460.0 L256.4,460.4 L256.8,461.5 L257.1,463.4 L257.4,466.0 L257.8,469.2 L258.1,473.0 L258.5,477.3 L258.8,482.0 L259.1,487.0 L259.5,492.3 L259.8,497.6 L260.2,503.0 L260.5,508.2 L260.9,513.3 L261.2,518.0 L261.5,522.3 L261.9,526.1 L262.2,529.3 L262.6,531.9 L262.9,533.8 L263.2,534.9 L263.6,535.3 L263.9,534.9 L264.3,533.7 L264.6,531.8 L264.9,529.2 L265.3,526.0 L265.6,522.1 L265.9,517.8 L266.3,513.0 L266.6,507.9 L266.9,502.6 L267.3,497.1 L267.6,491.7 L268.0,486.4 L268.3,481.3 L268.6,476.5 L269.0,472.2 L269.3,468.3 L269.6,465.1 L270.0,462.5 L270.3,460.6 L270.6,459.4 L271.0,459.0 L271.3,459.6 L271.7,461.2 L272.0,463.9 L272.3,467.5 L272.7,472.0 L273.0,477.2 L273.4,483.0 L273.7,489.3 L274.0,495.8 L274.4,502.4 L274.7,509.0 L275.1,515.2 L275.4,521.1 L275.7,526.3 L276.1,530.8 L276.4,534.4 L276.8,537.1 L277.1,538.7 L277.4,539.2 L277.8,494.0 L278.3,492.7 L278.7,497.6 L279.2,504.0 L279.7,506.3 L280.2,504.4 L280.7,486.9 L281.2,484.0 L281.7,490.2 L282.2,510.7 L282.7,492.3 L283.2,508.3 L283.6,484.7 L284.1,504.3 L284.6,488.0 L285.1,512.2 L285.6,493.2 L286.1,489.8 L286.6,491.5 L287.1,503.4 L287.6,489.9 L288.0,502.0 L288.5,485.9 L289.0,498.4 L289.5,484.0 L290.0,498.7 L290.5,491.4 L291.0,504.6 L291.5,489.9 L292.0,490.5 L292.5,506.3 L292.9,503.1 L293.4,510.0 L293.9,485.4 L294.4,491.6 L294.9,503.1 L295.4,487.9 L295.9,504.2 L296.4,474.5 L296.9,502.0 L297.4,483.5 L297.8,503.3 L298.3,493.4 L298.8,507.4 L299.3,493.2 L299.8,508.0 L300.3,493.2 L300.8,514.4 L301.3,492.0 L301.8,506.6 L302.2,490.5 L302.7,504.9 L303.2,493.5 L303.7,499.4 L304.2,491.6 L304.7,503.9 L305.2,484.7 L305.7,501.3 L306.2,487.6 L306.7,503.4 L307.1,487.6 L307.6,504.8 L308.1,485.2 L308.6,506.3 L309.1,480.3 L309.6,507.8 L310.1,490.0 L310.6,486.9 L311.1,491.0 L311.6,513.6 L312.0,487.8 L312.5,505.6 L313.0,492.6 L313.5,510.3 L314.0,487.6 L314.5,509.3 L315.0,489.3 L315.5,507.0 L316.0,490.5 L316.5,511.2 L316.9,491.5 L317.4,513.6 L317.9,492.1 L318.4,507.0 L318.9,490.5 L319.4,505.9 L319.9,494.9 L320.4,507.8 L320.9,493.6 L321.3,505.8 L321.8,494.9 L322.3,509.1 L322.8,496.9 L323.3,518.0 L323.8,498.6 L324.3,516.7 L324.8,499.2 L325.3,523.9 L325.8,498.1 L326.2,507.8 L326.7,493.3 L327.2,509.6 L327.7,491.3 L328.2,515.1 L328.7,492.0 L329.2,513.5 L329.7,492.1 L330.2,512.1 L330.7,492.0 L331.1,519.5 L331.6,496.8 L332.1,513.8 L332.6,495.8 L333.1,504.2 L333.6,490.5 L334.1,507.8 L334.6,491.6 L335.1,508.5 L335.6,492.0 L336.0,507.9 L336.5,510.0 L337.0,486.9 L337.5,490.2 L338.0,508.7 L338.5,492.0 L339.0,503.2 L339.5,492.1 L340.0,482.5 L340.4,508.5 L340.9,510.0 L341.4,491.3 L341.9,508.5 L342.4,491.5 L342.9,515.1 L343.4,496.3 L343.9,509.5 L344.4,485.4 L344.9,518.9 L345.3,494.8 L345.8,522.4 L346.3,487.5 L346.8,517.6 L347.3,484.0 L347.8,516.9 L348.3,518.0 L348.8,519.8 L349.3,490.2 L349.8,522.6 L350.2,484.7 L350.7,521.4 L351.2,527.5 L351.7,513.6 L352.2,495.5 L352.7,492.0 L353.2,515.1 L353.7,505.6 L354.2,487.1 L354.6,500.6 L355.1,484.1 L355.6,481.8 L356.1,497.6 L356.6,495.0 L357.1,485.3 L357.6,496.0 L358.1,484.7 L358.6,497.6 L359.1,499.0 L359.5,495.9 L360.0,484.0 L360.5,500.1 L361.0,483.2 L361.5,503.4 L362.0,487.2 L362.5,498.9 L363.0,484.0 L363.5,478.1 L364.0,503.4 L364.4,500.4 L364.9,489.2 L365.4,489.8 L365.9,495.1 L366.4,509.3 L366.9,508.5 L367.4,491.3 L367.9,494.0 L368.4,505.9 L368.9,493.3 L369.3,507.8 L369.8,496.7 L370.3,494.9 L370.8,495.9 L371.3,510.3 L371.8,514.4 L372.3,511.6 L372.8,501.0 L373.3,497.8 L373.7,498.7 L374.2,511.8 L374.7,511.4 L375.2,504.4 L375.7,495.5 L376.2,491.3 L376.7,506.3 L377.2,505.7 L377.7,515.1 L378.2,508.2 L378.6,492.3 L379.1,492.0 L379.6,502.7 L380.1,499.2 L380.6,490.7 L381.1,501.6 L381.6,491.1 L382.1,501.2 L382.6,487.6 L383.1,497.6 L383.5,500.5 L384.0,493.4 L384.5,494.4 L385.0,502.5 L385.5,497.3 L386.0,509.3 L386.5,493.6 L387.0,492.7 L387.5,492.7 L388.0,501.5 L388.4,504.1 L388.9,502.1 L389.4,491.3 L389.9,509.5 L390.4,511.4 L390.9,508.9 L391.4,491.9 L391.9,506.3 L392.4,492.0 L392.8,505.6 L393.3,491.0 L393.8,504.2 L394.3,489.8 L394.8,484.7 L395.3,490.0 L395.8,503.4 L396.3,492.1 L396.8,504.0 L397.3,490.5 L397.7,507.8 L398.2,492.8 L398.7,501.0 L399.2,488.3 L399.7,503.3 L400.2,487.4 L400.7,500.5 L401.2,487.0 L401.7,485.4 L402.2,487.5 L402.6,498.5 L403.1,486.0 L403.6,486.1 L404.1,490.0 L404.6,496.0 L405.1,497.6 L405.6,498.2 L406.1,488.8 L406.6,484.7 L407.0,488.2 L407.5,499.5 L408.0,492.7 L408.5,504.1 L409.0,494.7 L409.5,504.5 L410.0,494.9 L410.5,504.6 L411.0,505.6 L411.5,504.4 L411.9,493.4 L412.4,510.1 L412.9,497.1 L413.4,508.9 L413.9,497.7 L414.4,512.1 L414.9,499.3 L415.4,518.0 L415.9,502.8 L416.4,511.7 L416.8,515.1 L417.3,510.8 L417.8,497.0 L418.3,494.9 L418.8,498.8 L419.3,510.7 L419.8,498.4 L420.3,510.2 L420.8,500.0 L421.3,518.7 L421.7,491.2 L422.2,516.8 L422.7,475.2 L423.2,511.4 L423.7,484.4 L424.2,514.9 L424.7,493.0 L425.2,494.2 L425.7,522.4 L426.1,503.9 L426.6,504.9 L427.1,479.6 L427.6,485.2 L428.1,492.7 L428.6,495.4 L429.1,500.5 L429.6,491.7 L430.1,504.9 L430.6,493.2 L431.0,503.3 L431.5,486.1 L432.0,502.0 L432.5,492.7 L433.0,500.7 L433.5,491.3 L434.0,501.1 L434.5,504.9 L435.0,503.8 L435.5,491.1 L435.9,499.5 L436.4,486.1 L436.9,501.8 L437.4,502.0 L437.9,496.4 L438.4,476.3 L438.9,471.6 L439.4,481.6 L439.9,487.6 L440.4,512.2 L440.8,508.0 L441.3,487.2 L441.8,502.8 L442.3,486.1 L442.8,504.1 L443.3,486.9 L443.8,503.4 L444.3,491.3 L444.8,501.6 L445.2,487.6 L445.7,502.6 L446.2,502.7 L446.7,502.1 L447.2,487.6 L447.7,498.5 L448.2,486.9 L448.7,500.5 L449.2,500.5 L449.7,500.6 L450.1,488.6 L450.6,499.6 L451.1,488.6 L451.6,501.3 L452.1,483.2 L452.6,501.6 L453.1,484.6 L453.6,504.1 L454.1,485.4 L454.6,506.0 L455.0,488.9 L455.5,516.6 L456.0,489.7 L456.5,501.1 L457.0,484.0 L457.5,503.4" stroke="#0f73bc" stroke-width="2.45"/>
<g class="s"><text x="183.4" y="564.4" text-anchor="middle">500</text>
<text x="265.0" y="564.4" text-anchor="middle">1000</text>
<text x="346.7" y="564.4" text-anchor="middle">1500</text>
<text x="428.3" y="564.4" text-anchor="middle">2000</text>
<text x="509.9" y="564.4" text-anchor="middle">2500</text><text x="97.7" y="555.9" text-anchor="end">0</text>
<text x="97.7" y="534.6" text-anchor="end">0.2</text>
<text x="97.7" y="513.3" text-anchor="end">0.4</text>
<text x="97.7" y="492.0" text-anchor="end">0.6</text>
<text x="97.7" y="470.7" text-anchor="end">0.8</text>
<text x="97.7" y="449.4" text-anchor="end">1</text>
</g><g class="l"><text x="286.1" y="574.8">Data points</text>
<text transform="translate(81.2,516.3) rotate(-90)" textLength="39.3" lengthAdjust="spacing">Amplitude</text></g>
</g>
<g id="plot4">
<rect x="601.6" y="233.3" width="406.90" height="108.80" fill="none" stroke="#1c1919" stroke-width="2.1"/>
<path d="M682.98,342.1v-5.25M682.98,233.3v5.25M764.36,342.1v-5.25M764.36,233.3v5.25M845.74,342.1v-5.25M845.74,233.3v5.25M927.12,342.1v-5.25M927.12,233.3v5.25M1008.50,342.1v-5.25M1008.50,233.3v5.25M601.6,342.10h5.25M1008.5,342.10h-5.25M601.6,320.36h5.25M1008.5,320.36h-5.25M601.6,298.62h5.25M1008.5,298.62h-5.25M601.6,276.88h5.25M1008.5,276.88h-5.25M601.6,255.14h5.25M1008.5,255.14h-5.25M601.6,233.40h5.25M1008.5,233.40h-5.25" stroke="#1c1919" stroke-width="1.35" fill="none"/>
<path class="sig" clip-path="url(#c4)" d="M601.6,327.3 L601.9,326.8 L602.3,325.3 L602.6,322.9 L602.9,319.6 L603.3,315.4 L603.6,310.5 L603.9,305.0 L604.3,299.0 L604.6,292.6 L604.9,286.0 L605.2,279.3 L605.6,272.7 L605.9,266.4 L606.2,260.3 L606.6,254.8 L606.9,249.9 L607.2,245.8 L607.6,242.4 L607.9,240.0 L608.2,238.5 L608.6,238.0 L608.9,238.6 L609.2,240.5 L609.6,243.5 L609.9,247.6 L610.3,252.8 L610.6,258.8 L610.9,265.5 L611.3,272.8 L611.6,280.5 L612.0,288.4 L612.3,296.3 L612.6,304.0 L613.0,311.3 L613.3,318.0 L613.7,324.0 L614.0,329.1 L614.3,333.3 L614.7,336.3 L615.0,338.1 L615.4,338.8 L615.7,338.1 L616.0,336.2 L616.4,333.1 L616.7,328.9 L617.0,323.6 L617.4,317.4 L617.7,310.5 L618.0,303.0 L618.4,295.1 L618.7,287.0 L619.0,278.9 L619.4,271.0 L619.7,263.5 L620.0,256.5 L620.4,250.4 L620.7,245.1 L621.0,240.8 L621.4,237.7 L621.7,235.8 L622.0,235.2 L622.4,235.7 L622.7,237.3 L623.0,239.8 L623.4,243.3 L623.7,247.7 L624.0,252.9 L624.4,258.8 L624.7,265.2 L625.0,272.0 L625.4,279.2 L625.7,286.5 L626.0,293.8 L626.4,300.9 L626.7,307.8 L627.0,314.2 L627.3,320.1 L627.7,325.2 L628.0,329.6 L628.3,333.1 L628.7,335.7 L629.0,337.2 L629.3,337.8 L629.7,337.2 L630.0,335.6 L630.3,332.8 L630.6,329.1 L631.0,324.5 L631.3,319.1 L631.6,312.9 L631.9,306.2 L632.3,299.1 L632.6,291.8 L632.9,284.4 L633.2,277.0 L633.6,269.9 L633.9,263.3 L634.2,257.1 L634.5,251.7 L634.9,247.0 L635.2,243.3 L635.5,240.6 L635.8,239.0 L636.2,238.4 L636.5,238.8 L636.8,240.1 L637.2,242.3 L637.5,245.2 L637.8,248.8 L638.2,253.1 L638.5,258.0 L638.8,263.4 L639.2,269.2 L639.5,275.3 L639.8,281.6 L640.2,287.9 L640.5,294.2 L640.8,300.3 L641.1,306.1 L641.5,311.5 L641.8,316.4 L642.1,320.7 L642.5,324.4 L642.8,327.3 L643.1,329.4 L643.5,330.7 L643.8,331.1 L644.1,330.7 L644.5,329.4 L644.8,327.3 L645.2,324.4 L645.5,320.7 L645.8,316.4 L646.2,311.6 L646.5,306.3 L646.9,300.6 L647.2,294.6 L647.5,288.6 L647.9,282.5 L648.2,276.6 L648.6,270.9 L648.9,265.6 L649.2,260.7 L649.6,256.5 L649.9,252.8 L650.3,249.9 L650.6,247.8 L650.9,246.5 L651.3,246.1 L651.6,246.4 L651.9,247.5 L652.3,249.2 L652.6,251.6 L652.9,254.6 L653.2,258.2 L653.6,262.3 L653.9,266.8 L654.2,271.7 L654.6,276.8 L654.9,282.2 L655.2,287.6 L655.5,293.0 L655.9,298.3 L656.2,303.5 L656.5,308.3 L656.9,312.9 L657.2,316.9 L657.5,320.5 L657.8,323.5 L658.2,325.9 L658.5,327.7 L658.8,328.8 L659.2,329.1 L659.5,328.6 L659.8,327.3 L660.2,325.0 L660.5,321.9 L660.8,318.0 L661.2,313.4 L661.5,308.2 L661.9,302.6 L662.2,296.7 L662.5,290.5 L662.9,284.3 L663.2,278.1 L663.5,272.1 L663.9,266.5 L664.2,261.4 L664.6,256.8 L664.9,252.9 L665.2,249.8 L665.6,247.5 L665.9,246.1 L666.2,245.7 L666.6,246.0 L666.9,247.0 L667.2,248.6 L667.6,250.9 L667.9,253.7 L668.2,257.1 L668.6,261.0 L668.9,265.3 L669.2,269.9 L669.6,274.8 L669.9,280.0 L670.2,285.2 L670.5,290.5 L670.9,295.8 L671.2,300.9 L671.5,305.9 L671.9,310.5 L672.2,314.8 L672.5,318.7 L672.9,322.1 L673.2,324.9 L673.5,327.2 L673.9,328.8 L674.2,329.8 L674.5,330.1 L674.9,329.7 L675.2,328.5 L675.5,326.5 L675.9,323.8 L676.2,320.4 L676.6,316.4 L676.9,311.8 L677.2,306.8 L677.6,301.4 L677.9,295.7 L678.2,289.8 L678.6,283.9 L678.9,278.1 L679.3,272.4 L679.6,267.0 L679.9,262.0 L680.3,257.4 L680.6,253.3 L680.9,249.9 L681.3,247.2 L681.6,245.3 L682.0,244.1 L682.3,243.7 L682.6,244.1 L683.0,245.3 L683.3,247.3 L683.6,250.1 L683.9,253.6 L684.3,257.8 L684.6,262.5 L684.9,267.6 L685.2,273.2 L685.6,279.0 L685.9,285.1 L686.2,291.1 L686.6,297.1 L686.9,303.0 L687.2,308.5 L687.5,313.7 L687.9,318.4 L688.2,322.6 L688.5,326.1 L688.9,328.9 L689.2,330.9 L689.5,332.1 L689.8,332.5 L690.2,332.1 L690.5,330.9 L690.8,328.9 L691.2,326.1 L691.5,322.6 L691.8,318.5 L692.2,313.8 L692.5,308.6 L692.8,303.1 L693.2,297.3 L693.5,291.3 L693.8,285.3 L694.1,279.3 L694.5,273.5 L694.8,267.9 L695.1,262.8 L695.5,258.1 L695.8,254.0 L696.1,250.5 L696.5,247.7 L696.8,245.7 L697.1,244.5 L697.5,244.1 L697.8,244.4 L698.1,245.5 L698.4,247.3 L698.8,249.8 L699.1,252.9 L699.4,256.6 L699.8,260.8 L700.1,265.4 L700.4,270.4 L700.7,275.7 L701.1,281.2 L701.4,286.8 L701.7,292.4 L702.1,297.8 L702.4,303.1 L702.7,308.1 L703.0,312.8 L703.4,317.0 L703.7,320.7 L704.0,323.8 L704.4,326.3 L704.7,328.1 L705.0,329.1 L705.3,329.5 L705.7,329.1 L706.0,328.0 L706.4,326.0 L706.7,323.4 L707.0,320.1 L707.4,316.2 L707.7,311.8 L708.1,306.9 L708.4,301.6 L708.7,296.1 L709.1,290.4 L709.4,284.7 L709.7,279.1 L710.1,273.5 L710.4,268.3 L710.8,263.4 L711.1,259.0 L711.4,255.1 L711.8,251.8 L712.1,249.1 L712.4,247.2 L712.8,246.1 L713.1,245.7 L713.5,246.1 L713.8,247.2 L714.1,249.2 L714.4,251.8 L714.8,255.2 L715.1,259.1 L715.4,263.6 L715.8,268.6 L716.1,273.9 L716.4,279.5 L716.8,285.2 L717.1,291.0 L717.4,296.7 L717.7,302.3 L718.1,307.6 L718.4,312.6 L718.7,317.0 L719.1,321.0 L719.4,324.3 L719.7,327.0 L720.0,328.9 L720.4,330.1 L720.7,330.5 L721.0,330.1 L721.4,328.9 L721.7,327.0 L722.1,324.3 L722.4,321.0 L722.7,317.0 L723.1,312.6 L723.4,307.6 L723.8,302.3 L724.1,296.7 L724.4,291.0 L724.8,285.2 L725.1,279.5 L725.4,273.9 L725.8,268.6 L726.1,263.6 L726.5,259.1 L726.8,255.2 L727.1,251.8 L727.5,249.2 L727.8,247.2 L728.1,246.1 L728.5,245.7 L728.8,246.1 L729.2,247.4 L729.5,249.5 L729.8,252.4 L730.2,256.0 L730.5,260.2 L730.8,265.1 L731.2,270.3 L731.5,276.0 L731.8,281.9 L732.2,287.9 L732.5,293.9 L732.9,299.8 L733.2,305.4 L733.5,310.7 L733.9,315.5 L734.2,319.8 L734.5,323.4 L734.9,326.3 L735.2,328.4 L735.5,329.7 L735.9,330.1 L736.2,329.7 L736.5,328.5 L736.9,326.6 L737.2,323.9 L737.5,320.6 L737.8,316.6 L738.2,312.1 L738.5,307.2 L738.8,301.8 L739.2,296.2 L739.5,290.5 L739.8,284.7 L740.2,278.9 L740.5,273.3 L740.8,268.0 L741.1,263.1 L741.5,258.6 L741.8,254.6 L742.1,251.3 L742.5,248.6 L742.8,246.6 L743.1,245.5 L743.5,245.1 L743.8,245.5 L744.1,246.8 L744.5,248.9 L744.8,251.7 L745.1,255.3 L745.5,259.6 L745.8,264.4 L746.1,269.6 L746.5,275.2 L746.8,281.1 L747.1,287.1 L747.5,293.1 L747.8,298.9 L748.1,304.5 L748.5,309.8 L748.8,314.6 L749.2,318.8 L749.5,322.4 L749.8,325.3 L750.2,327.4 L750.5,328.7 L750.8,329.1 L751.2,328.7 L751.5,327.4 L751.8,325.3 L752.2,322.4 L752.5,318.8 L752.8,314.5 L753.2,309.7 L753.5,304.4 L753.9,298.7 L754.2,292.8 L754.5,286.8 L754.9,280.8 L755.2,274.9 L755.5,269.2 L755.9,263.9 L756.2,259.1 L756.5,254.8 L756.9,251.2 L757.2,248.3 L757.5,246.2 L757.9,244.9 L758.2,244.5 L758.6,244.9 L758.9,246.2 L759.2,248.4 L759.6,251.4 L759.9,255.1 L760.3,259.5 L760.6,264.5 L760.9,270.0 L761.3,275.8 L761.6,281.9 L762.0,288.1 L762.3,294.3 L762.6,300.4 L763.0,306.2 L763.3,311.7 L763.7,316.7 L764.0,321.1 L764.3,324.8 L764.7,327.8 L765.0,330.0 L765.4,331.3 L765.7,331.7 L766.0,331.3 L766.4,330.0 L766.7,327.8 L767.0,324.8 L767.4,321.1 L767.7,316.7 L768.0,311.7 L768.4,306.2 L768.7,300.4 L769.1,294.3 L769.4,288.1 L769.7,281.9 L770.1,275.8 L770.4,270.0 L770.7,264.5 L771.1,259.5 L771.4,255.1 L771.7,251.4 L772.1,248.4 L772.4,246.2 L772.7,244.9 L773.1,244.5 L773.4,245.1 L773.8,246.9 L774.1,249.8 L774.4,253.8 L774.8,258.8 L775.1,264.6 L775.4,271.1 L775.8,278.1 L776.1,285.3 L776.5,292.7 L776.8,299.9 L777.1,306.9 L777.5,313.4 L777.8,319.2 L778.2,324.1 L778.5,328.2 L778.8,331.1 L779.2,332.9 L779.5,333.5 L779.8,288.3 L780.3,285.4 L780.8,303.7 L781.3,299.2 L781.8,282.0 L782.3,294.0 L782.8,282.9 L783.3,290.2 L783.7,274.9 L784.2,292.2 L784.7,282.8 L785.2,297.7 L785.7,280.7 L786.2,299.5 L786.7,280.1 L787.2,302.3 L787.7,303.7 L788.1,299.6 L788.6,287.9 L789.1,297.9 L789.6,285.4 L790.1,298.2 L790.6,299.2 L791.1,297.0 L791.6,289.6 L792.0,302.4 L792.5,288.3 L793.0,301.9 L793.5,308.1 L794.0,307.8 L794.5,285.4 L795.0,309.6 L795.5,284.2 L796.0,311.1 L796.4,280.9 L796.9,297.4 L797.4,274.9 L797.9,296.4 L798.4,299.2 L798.9,258.6 L799.4,274.8 L799.9,296.9 L800.3,280.1 L800.8,303.7 L801.3,286.7 L801.8,300.2 L802.3,285.4 L802.8,295.5 L803.3,285.7 L803.8,297.7 L804.3,283.0 L804.7,294.4 L805.2,275.7 L805.7,291.8 L806.2,278.0 L806.7,288.1 L807.2,274.6 L807.7,291.6 L808.2,291.8 L808.6,273.5 L809.1,275.3 L809.6,288.4 L810.1,287.3 L810.6,286.4 L811.1,262.3 L811.6,290.3 L812.1,274.3 L812.6,263.1 L813.0,302.2 L813.5,296.1 L814.0,275.7 L814.5,274.2 L815.0,308.1 L815.5,298.3 L816.0,275.2 L816.5,291.6 L816.9,274.9 L817.4,297.7 L817.9,284.0 L818.4,303.5 L818.9,286.3 L819.4,308.1 L819.9,287.4 L820.4,303.2 L820.9,282.4 L821.3,296.2 L821.8,296.2 L822.3,295.2 L822.8,285.3 L823.3,304.1 L823.8,308.1 L824.3,304.4 L824.8,286.8 L825.2,309.3 L825.7,286.5 L826.2,310.0 L826.7,278.7 L827.2,311.1 L827.7,280.1 L828.2,297.7 L828.7,286.3 L829.2,282.4 L829.6,283.8 L830.1,304.7 L830.6,307.4 L831.1,280.1 L831.6,288.2 L832.1,302.1 L832.6,306.6 L833.1,303.3 L833.5,284.4 L834.0,298.1 L834.5,280.3 L835.0,280.1 L835.5,299.2 L836.0,299.5 L836.5,284.3 L837.0,282.4 L837.5,302.2 L837.9,302.2 L838.4,281.1 L838.9,302.4 L839.4,280.1 L839.9,302.9 L840.4,284.5 L840.9,300.2 L841.4,278.0 L841.8,298.9 L842.3,275.7 L842.8,305.1 L843.3,289.8 L843.8,285.4 L844.3,286.8 L844.8,307.9 L845.3,287.0 L845.8,309.6 L846.2,279.1 L846.7,273.5 L847.2,282.2 L847.7,315.5 L848.2,275.3 L848.7,310.3 L849.2,275.8 L849.7,272.0 L850.2,306.6 L850.6,307.6 L851.1,311.1 L851.6,279.4 L852.1,282.3 L852.6,317.1 L853.1,275.7 L853.6,319.3 L854.1,279.3 L854.5,280.9 L855.0,302.2 L855.5,293.7 L856.0,276.2 L856.5,284.9 L857.0,271.2 L857.5,285.8 L858.0,271.6 L858.5,286.1 L858.9,271.4 L859.4,284.3 L859.9,271.2 L860.4,287.3 L860.9,273.8 L861.4,283.9 L861.9,274.2 L862.4,287.8 L862.8,274.1 L863.3,289.5 L863.8,276.2 L864.3,286.9 L864.8,270.5 L865.3,286.1 L865.8,274.9 L866.3,293.3 L866.8,277.2 L867.2,290.0 L867.7,276.7 L868.2,293.8 L868.7,296.2 L869.2,295.5 L869.7,274.9 L870.2,274.9 L870.7,293.3 L871.1,288.6 L871.6,275.1 L872.1,274.9 L872.6,277.3 L873.1,303.7 L873.6,284.6 L874.1,300.0 L874.6,284.2 L875.1,296.6 L875.5,280.4 L876.0,302.9 L876.5,279.1 L877.0,293.5 L877.5,275.7 L878.0,295.5 L878.5,278.7 L879.0,292.9 L879.4,280.9 L879.9,299.9 L880.4,283.4 L880.9,291.8 L881.4,282.4 L881.9,289.9 L882.4,280.9 L882.9,289.4 L883.4,282.8 L883.8,293.1 L884.3,277.9 L884.8,294.0 L885.3,282.8 L885.8,292.5 L886.3,280.9 L886.8,281.6 L887.3,283.4 L887.7,290.3 L888.2,283.0 L888.7,290.3 L889.2,282.2 L889.7,291.8 L890.2,282.5 L890.7,282.4 L891.2,305.9 L891.7,299.7 L892.1,285.7 L892.6,295.6 L893.1,283.4 L893.6,283.1 L894.1,297.7 L894.6,292.5 L895.1,281.5 L895.6,280.1 L896.0,293.3 L896.5,294.2 L897.0,281.6 L897.5,296.2 L898.0,277.9 L898.5,299.9 L899.0,279.5 L899.5,291.9 L900.0,280.1 L900.4,289.3 L900.9,293.3 L901.4,292.2 L901.9,275.7 L902.4,288.9 L902.9,276.5 L903.4,288.8 L903.9,273.9 L904.3,290.3 L904.8,272.0 L905.3,288.0 L905.8,278.1 L906.3,287.4 L906.8,276.5 L907.3,275.7 L907.8,286.6 L908.3,285.4 L908.7,274.9 L909.2,291.6 L909.7,273.9 L910.2,295.5 L910.7,272.0 L911.2,294.1 L911.7,279.5 L912.2,293.3 L912.7,281.3 L913.1,279.4 L913.6,280.7 L914.1,293.2 L914.6,293.3 L915.1,284.6 L915.6,287.5 L916.1,298.4 L916.6,290.9 L917.0,305.7 L917.5,288.3 L918.0,308.9 L918.5,286.2 L919.0,299.0 L919.5,302.2 L920.0,300.7 L920.5,279.4 L921.0,299.0 L921.4,289.1 L921.9,302.2 L922.4,288.3 L922.9,301.4 L923.4,287.2 L923.9,307.4 L924.4,269.7 L924.9,266.0 L925.3,274.7 L925.8,309.6 L926.3,276.9 L926.8,279.4 L927.3,311.8 L927.8,301.6 L928.3,299.2 L928.8,274.2 L929.3,278.9 L929.7,293.3 L930.2,278.5 L930.7,279.4 L931.2,282.6 L931.7,292.9 L932.2,282.4 L932.7,298.5 L933.2,279.3 L933.6,289.2 L934.1,277.2 L934.6,293.3 L935.1,280.9 L935.6,282.4 L936.1,282.8 L936.6,291.1 L937.1,293.3 L937.6,291.7 L938.0,281.6 L938.5,279.4 L939.0,279.6 L939.5,299.9 L940.0,271.7 L940.5,301.2 L941.0,264.5 L941.5,297.9 L941.9,276.9 L942.4,283.9 L942.9,304.4 L943.4,298.9 L943.9,287.3 L944.4,297.7 L944.9,280.5 L945.4,294.7 L945.9,278.7 L946.3,294.9 L946.8,280.3 L947.3,294.0 L947.8,282.4 L948.3,293.9 L948.8,282.7 L949.3,299.2 L949.8,275.8 L950.2,272.7 L950.7,280.4 L951.2,290.8 L951.7,270.7 L952.2,269.7 L952.7,298.5 L953.2,294.4 L953.7,274.2 L954.2,275.7 L954.6,299.2 L955.1,299.3 L955.6,275.1 L956.1,272.0 L956.6,302.2 L957.1,299.9 L957.6,266.6 L958.1,263.8 L958.5,299.2" stroke="#0f73bc" stroke-width="2.45"/>
<path class="sig" clip-path="url(#c4)" d="M601.6,333.9 L601.9,333.4 L602.3,331.6 L602.6,328.7 L603.0,324.8 L603.3,320.0 L603.6,314.3 L604.0,307.9 L604.3,300.9 L604.6,293.7 L605.0,286.2 L605.3,278.7 L605.7,271.4 L606.0,264.5 L606.3,258.1 L606.7,252.4 L607.0,247.6 L607.3,243.6 L607.7,240.8 L608.0,239.0 L608.4,238.4 L608.7,239.0 L609.0,240.8 L609.4,243.8 L609.7,247.8 L610.1,252.8 L610.4,258.6 L610.7,265.2 L611.1,272.3 L611.4,279.8 L611.8,287.4 L612.1,295.1 L612.4,302.6 L612.8,309.7 L613.1,316.2 L613.5,322.1 L613.8,327.1 L614.1,331.1 L614.5,334.0 L614.8,335.8 L615.2,336.4 L615.5,335.9 L615.8,334.1 L616.2,331.2 L616.5,327.3 L616.8,322.4 L617.2,316.6 L617.5,310.2 L617.8,303.2 L618.2,295.9 L618.5,288.3 L618.8,280.8 L619.2,273.5 L619.5,266.5 L619.8,260.1 L620.2,254.3 L620.5,249.4 L620.8,245.5 L621.2,242.6 L621.5,240.8 L621.9,240.2 L622.2,240.7 L622.5,242.1 L622.8,244.5 L623.2,247.7 L623.5,251.7 L623.8,256.4 L624.2,261.8 L624.5,267.7 L624.8,273.9 L625.2,280.5 L625.5,287.1 L625.8,293.8 L626.2,300.3 L626.5,306.6 L626.8,312.5 L627.1,317.8 L627.5,322.6 L627.8,326.6 L628.1,329.8 L628.5,332.1 L628.8,333.5 L629.1,334.0 L629.5,333.5 L629.8,332.0 L630.1,329.4 L630.4,326.0 L630.8,321.7 L631.1,316.6 L631.4,310.9 L631.7,304.6 L632.1,298.0 L632.4,291.2 L632.7,284.3 L633.0,277.4 L633.4,270.8 L633.7,264.6 L634.0,258.9 L634.3,253.8 L634.7,249.5 L635.0,246.0 L635.3,243.5 L635.6,242.0 L636.0,241.5 L636.3,241.9 L636.6,243.1 L637.0,245.2 L637.3,248.0 L637.6,251.5 L638.0,255.7 L638.3,260.5 L638.6,265.7 L639.0,271.4 L639.3,277.3 L639.6,283.4 L640.0,289.5 L640.3,295.6 L640.6,301.5 L640.9,307.1 L641.3,312.4 L641.6,317.1 L641.9,321.3 L642.3,324.9 L642.6,327.7 L642.9,329.7 L643.3,331.0 L643.6,331.4 L643.9,331.0 L644.3,329.7 L644.6,327.6 L645.0,324.7 L645.3,321.0 L645.6,316.7 L646.0,311.9 L646.3,306.6 L646.7,300.9 L647.0,295.0 L647.3,289.0 L647.7,282.9 L648.0,277.0 L648.4,271.3 L648.7,266.0 L649.0,261.2 L649.4,256.9 L649.7,253.2 L650.1,250.3 L650.4,248.2 L650.7,246.9 L651.1,246.5 L651.4,246.9 L651.7,247.9 L652.1,249.6 L652.4,252.0 L652.7,255.0 L653.0,258.6 L653.4,262.6 L653.7,267.1 L654.0,272.0 L654.4,277.1 L654.7,282.4 L655.0,287.7 L655.3,293.1 L655.7,298.4 L656.0,303.5 L656.3,308.4 L656.7,312.8 L657.0,316.9 L657.3,320.5 L657.6,323.5 L658.0,325.8 L658.3,327.6 L658.6,328.6 L659.0,329.0 L659.3,328.5 L659.6,327.2 L660.0,325.0 L660.3,321.9 L660.6,318.1 L661.0,313.7 L661.3,308.7 L661.7,303.2 L662.0,297.4 L662.3,291.4 L662.7,285.3 L663.0,279.3 L663.3,273.5 L663.7,268.0 L664.0,263.0 L664.4,258.6 L664.7,254.8 L665.0,251.7 L665.4,249.5 L665.7,248.2 L666.0,247.7 L666.4,248.0 L666.7,249.0 L667.0,250.5 L667.4,252.6 L667.7,255.3 L668.0,258.4 L668.4,262.0 L668.7,266.1 L669.0,270.4 L669.4,275.0 L669.7,279.8 L670.0,284.8 L670.3,289.7 L670.7,294.6 L671.0,299.4 L671.3,304.1 L671.7,308.4 L672.0,312.4 L672.3,316.0 L672.7,319.2 L673.0,321.9 L673.3,324.0 L673.7,325.5 L674.0,326.4 L674.3,326.8 L674.7,326.4 L675.0,325.3 L675.3,323.5 L675.7,321.1 L676.0,318.0 L676.4,314.3 L676.7,310.2 L677.0,305.6 L677.4,300.7 L677.7,295.6 L678.0,290.3 L678.4,285.0 L678.7,279.7 L679.1,274.5 L679.4,269.6 L679.7,265.1 L680.1,260.9 L680.4,257.3 L680.7,254.2 L681.1,251.8 L681.4,250.0 L681.8,248.9 L682.1,248.5 L682.4,248.9 L682.8,249.9 L683.1,251.7 L683.4,254.1 L683.7,257.1 L684.1,260.7 L684.4,264.8 L684.7,269.3 L685.0,274.1 L685.4,279.1 L685.7,284.3 L686.0,289.6 L686.4,294.7 L686.7,299.8 L687.0,304.6 L687.3,309.1 L687.7,313.1 L688.0,316.7 L688.3,319.8 L688.7,322.2 L689.0,323.9 L689.3,325.0 L689.6,325.3 L690.0,325.0 L690.3,323.9 L690.6,322.2 L691.0,319.9 L691.3,316.9 L691.6,313.4 L692.0,309.4 L692.3,305.0 L692.6,300.3 L693.0,295.4 L693.3,290.3 L693.6,285.2 L693.9,280.1 L694.3,275.1 L694.6,270.4 L694.9,266.1 L695.3,262.1 L695.6,258.6 L695.9,255.6 L696.3,253.3 L696.6,251.5 L696.9,250.5 L697.3,250.1 L697.6,250.5 L697.9,251.4 L698.2,253.1 L698.6,255.3 L698.9,258.1 L699.2,261.4 L699.6,265.1 L699.9,269.3 L700.2,273.8 L700.5,278.5 L700.9,283.4 L701.2,288.4 L701.5,293.4 L701.9,298.4 L702.2,303.1 L702.5,307.6 L702.8,311.8 L703.2,315.5 L703.5,318.8 L703.8,321.6 L704.2,323.8 L704.5,325.4 L704.8,326.4 L705.1,326.8 L705.5,326.4 L705.8,325.3 L706.2,323.5 L706.5,321.1 L706.8,318.0 L707.2,314.3 L707.5,310.2 L707.9,305.6 L708.2,300.7 L708.5,295.6 L708.9,290.3 L709.2,285.0 L709.5,279.7 L709.9,274.5 L710.2,269.6 L710.6,265.1 L710.9,260.9 L711.2,257.3 L711.6,254.2 L711.9,251.8 L712.2,250.0 L712.6,248.9 L712.9,248.5 L713.3,248.9 L713.6,250.0 L713.9,251.8 L714.2,254.2 L714.6,257.3 L714.9,260.9 L715.2,265.1 L715.6,269.6 L715.9,274.5 L716.2,279.7 L716.6,285.0 L716.9,290.3 L717.2,295.6 L717.5,300.7 L717.9,305.6 L718.2,310.2 L718.5,314.3 L718.9,318.0 L719.2,321.1 L719.5,323.5 L719.8,325.3 L720.2,326.4 L720.5,326.8 L720.8,326.4 L721.2,325.3 L721.5,323.5 L721.9,321.0 L722.2,317.9 L722.5,314.2 L722.9,310.0 L723.2,305.4 L723.6,300.4 L723.9,295.2 L724.2,289.8 L724.6,284.4 L724.9,279.1 L725.2,273.9 L725.6,268.9 L725.9,264.3 L726.3,260.1 L726.6,256.4 L726.9,253.3 L727.3,250.8 L727.6,249.0 L728.0,247.9 L728.3,247.5 L728.6,247.9 L729.0,249.1 L729.3,251.1 L729.6,253.9 L730.0,257.3 L730.3,261.4 L730.6,266.0 L731.0,271.0 L731.3,276.4 L731.6,282.0 L732.0,287.7 L732.3,293.5 L732.7,299.1 L733.0,304.5 L733.3,309.5 L733.7,314.1 L734.0,318.1 L734.3,321.6 L734.7,324.3 L735.0,326.3 L735.3,327.6 L735.7,328.0 L736.0,327.6 L736.3,326.5 L736.7,324.6 L737.0,322.1 L737.3,318.9 L737.6,315.2 L738.0,310.9 L738.3,306.2 L738.6,301.2 L739.0,295.9 L739.3,290.5 L739.6,285.0 L740.0,279.6 L740.3,274.3 L740.6,269.2 L740.9,264.5 L741.3,260.3 L741.6,256.5 L741.9,253.4 L742.3,250.8 L742.6,249.0 L742.9,247.9 L743.3,247.5 L743.6,247.9 L743.9,249.1 L744.3,251.1 L744.6,253.9 L744.9,257.3 L745.3,261.4 L745.6,266.0 L745.9,271.0 L746.3,276.4 L746.6,282.0 L746.9,287.7 L747.3,293.5 L747.6,299.1 L747.9,304.5 L748.3,309.5 L748.6,314.1 L749.0,318.1 L749.3,321.6 L749.6,324.3 L750.0,326.3 L750.3,327.6 L750.6,328.0 L751.0,327.6 L751.3,326.4 L751.6,324.4 L752.0,321.7 L752.3,318.3 L752.6,314.4 L753.0,309.9 L753.3,304.9 L753.7,299.7 L754.0,294.2 L754.3,288.5 L754.7,282.9 L755.0,277.4 L755.3,272.2 L755.7,267.2 L756.0,262.7 L756.3,258.8 L756.7,255.4 L757.0,252.7 L757.3,250.7 L757.7,249.5 L758.0,249.1 L758.4,249.5 L758.7,250.7 L759.0,252.6 L759.4,255.2 L759.7,258.5 L760.1,262.4 L760.4,266.8 L760.7,271.6 L761.1,276.7 L761.4,282.1 L761.8,287.5 L762.1,293.0 L762.4,298.4 L762.8,303.5 L763.1,308.3 L763.5,312.7 L763.8,316.6 L764.1,319.9 L764.5,322.5 L764.8,324.4 L765.2,325.6 L765.5,325.9 L765.8,325.6 L766.2,324.4 L766.5,322.4 L766.8,319.8 L767.2,316.4 L767.5,312.5 L767.8,308.1 L768.2,303.2 L768.5,298.0 L768.9,292.6 L769.2,287.0 L769.5,281.5 L769.9,276.1 L770.2,270.9 L770.5,266.0 L770.9,261.6 L771.2,257.6 L771.5,254.3 L771.9,251.6 L772.2,249.7 L772.5,248.5 L772.9,248.1 L773.2,248.7 L773.6,250.3 L773.9,253.1 L774.2,256.8 L774.6,261.3 L774.9,266.7 L775.2,272.6 L775.6,279.0 L775.9,285.7 L776.3,292.4 L776.6,299.1 L776.9,305.5 L777.3,311.4 L777.6,316.8 L778.0,321.4 L778.3,325.1 L778.6,327.8 L779.0,329.4 L779.3,330.0 L779.6,283.8 L780.1,282.5 L780.6,287.5 L781.1,294.0 L781.6,296.4 L782.1,294.4 L782.6,276.6 L783.1,273.6 L783.5,279.9 L784.0,300.9 L784.5,282.1 L785.0,298.4 L785.5,274.3 L786.0,294.3 L786.5,277.7 L787.0,302.4 L787.5,283.0 L787.9,279.5 L788.4,281.3 L788.9,293.4 L789.4,279.6 L789.9,291.9 L790.4,275.6 L790.9,288.4 L791.4,273.6 L791.8,288.6 L792.3,281.1 L792.8,294.7 L793.3,279.6 L793.8,280.3 L794.3,296.4 L794.8,293.1 L795.3,300.1 L795.8,275.1 L796.2,281.4 L796.7,293.1 L797.2,277.6 L797.7,294.2 L798.2,263.9 L798.7,291.9 L799.2,273.1 L799.7,293.4 L800.1,283.3 L800.6,297.5 L801.1,283.0 L801.6,298.1 L802.1,283.0 L802.6,304.6 L803.1,281.8 L803.6,296.7 L804.1,280.2 L804.5,294.9 L805.0,283.3 L805.5,289.3 L806.0,281.4 L806.5,293.9 L807.0,274.3 L807.5,291.2 L808.0,277.3 L808.4,293.4 L808.9,277.3 L809.4,294.8 L809.9,274.8 L810.4,296.3 L810.9,269.8 L811.4,297.9 L811.9,279.8 L812.4,276.6 L812.8,280.8 L813.3,303.9 L813.8,277.5 L814.3,295.6 L814.8,282.4 L815.3,300.4 L815.8,277.3 L816.3,299.4 L816.7,279.0 L817.2,297.1 L817.7,280.3 L818.2,301.4 L818.7,281.2 L819.2,303.9 L819.7,281.9 L820.2,297.1 L820.7,280.3 L821.1,295.9 L821.6,284.7 L822.1,297.9 L822.6,283.4 L823.1,295.8 L823.6,284.7 L824.1,299.3 L824.6,286.7 L825.0,308.3 L825.5,288.5 L826.0,307.0 L826.5,289.1 L827.0,314.3 L827.5,288.0 L828.0,297.9 L828.5,283.2 L829.0,299.7 L829.4,281.0 L829.9,305.3 L830.4,281.8 L830.9,303.7 L831.4,281.9 L831.9,302.3 L832.4,281.8 L832.9,309.8 L833.3,286.7 L833.8,304.1 L834.3,285.7 L834.8,294.2 L835.3,280.3 L835.8,297.9 L836.3,281.3 L836.8,298.6 L837.3,281.8 L837.7,298.0 L838.2,300.1 L838.7,276.6 L839.2,279.9 L839.7,298.8 L840.2,281.8 L840.7,293.2 L841.2,281.9 L841.7,272.1 L842.1,298.6 L842.6,300.1 L843.1,281.0 L843.6,298.6 L844.1,281.2 L844.6,305.3 L845.1,286.1 L845.6,299.7 L846.0,275.1 L846.5,309.3 L847.0,284.7 L847.5,312.8 L848.0,277.2 L848.5,307.9 L849.0,273.6 L849.5,307.2 L850.0,308.3 L850.4,310.1 L850.9,279.9 L851.4,313.0 L851.9,274.3 L852.4,311.8 L852.9,318.0 L853.4,303.8 L853.9,285.4 L854.3,281.8 L854.8,305.3 L855.3,295.7 L855.8,276.7 L856.3,290.6 L856.8,273.7 L857.3,271.3 L857.8,287.5 L858.3,284.8 L858.7,274.9 L859.2,285.9 L859.7,274.3 L860.2,287.5 L860.7,289.0 L861.2,285.7 L861.7,273.6 L862.2,290.1 L862.6,272.8 L863.1,293.4 L863.6,276.8 L864.1,288.8 L864.6,273.6 L865.1,267.6 L865.6,293.4 L866.1,290.3 L866.6,279.0 L867.0,279.5 L867.5,284.9 L868.0,299.4 L868.5,298.6 L869.0,281.0 L869.5,283.8 L870.0,296.0 L870.5,283.1 L870.9,297.9 L871.4,286.6 L871.9,284.7 L872.4,285.7 L872.9,300.4 L873.4,304.6 L873.9,301.8 L874.4,290.9 L874.9,287.7 L875.3,288.7 L875.8,302.0 L876.3,301.6 L876.8,294.4 L877.3,285.3 L877.8,281.0 L878.3,296.4 L878.8,295.7 L879.2,305.3 L879.7,298.3 L880.2,282.1 L880.7,281.8 L881.2,292.7 L881.7,289.1 L882.2,280.5 L882.7,291.6 L883.2,280.9 L883.6,291.1 L884.1,277.3 L884.6,287.4 L885.1,290.4 L885.6,283.3 L886.1,284.2 L886.6,292.5 L887.1,287.2 L887.5,299.4 L888.0,283.5 L888.5,282.5 L889.0,282.5 L889.5,291.5 L890.0,294.2 L890.5,292.0 L891.0,281.0 L891.5,299.7 L891.9,301.6 L892.4,299.0 L892.9,281.6 L893.4,296.3 L893.9,281.8 L894.4,295.7 L894.9,280.8 L895.4,294.3 L895.8,279.5 L896.3,274.3 L896.8,279.7 L897.3,293.4 L897.8,281.9 L898.3,294.1 L898.8,280.3 L899.3,297.9 L899.8,282.6 L900.2,290.9 L900.7,278.0 L901.2,293.3 L901.7,277.1 L902.2,290.4 L902.7,276.6 L903.2,275.1 L903.7,277.2 L904.2,288.4 L904.6,275.6 L905.1,275.8 L905.6,279.7 L906.1,285.9 L906.6,287.5 L907.1,288.1 L907.6,278.5 L908.1,274.3 L908.5,277.9 L909.0,289.5 L909.5,282.5 L910.0,294.2 L910.5,284.5 L911.0,294.5 L911.5,284.7 L912.0,294.6 L912.5,295.7 L912.9,294.4 L913.4,283.3 L913.9,300.3 L914.4,287.0 L914.9,299.0 L915.4,287.6 L915.9,302.3 L916.4,289.2 L916.8,308.3 L917.3,292.8 L917.8,301.9 L918.3,305.3 L918.8,300.9 L919.3,286.9 L919.8,284.7 L920.3,288.7 L920.8,300.9 L921.2,288.4 L921.7,300.3 L922.2,290.0 L922.7,309.1 L923.2,281.0 L923.7,307.1 L924.2,264.6 L924.7,301.6 L925.1,274.0 L925.6,305.1 L926.1,282.8 L926.6,284.0 L927.1,312.8 L927.6,293.9 L928.1,294.9 L928.6,269.1 L929.1,274.8 L929.5,282.5 L930.0,285.3 L930.5,290.5 L931.0,281.5 L931.5,294.9 L932.0,283.0 L932.5,293.3 L933.0,275.8 L933.4,291.9 L933.9,282.4 L934.4,290.7 L934.9,281.0 L935.4,291.0 L935.9,294.9 L936.4,293.9 L936.9,280.9 L937.4,289.5 L937.8,275.8 L938.3,291.7 L938.8,291.9 L939.3,286.3 L939.8,265.7 L940.3,260.9 L940.8,271.2 L941.3,277.3 L941.7,302.4 L942.2,298.1 L942.7,276.8 L943.2,292.8 L943.7,275.8 L944.2,294.2 L944.7,276.6 L945.2,293.4 L945.7,281.0 L946.1,291.6 L946.6,277.3 L947.1,292.6 L947.6,292.7 L948.1,292.1 L948.6,277.3 L949.1,288.4 L949.6,276.6 L950.0,290.4 L950.5,290.4 L951.0,290.6 L951.5,278.3 L952.0,289.5 L952.5,278.3 L953.0,291.3 L953.5,272.8 L954.0,291.5 L954.4,274.2 L954.9,294.2 L955.4,275.1 L955.9,296.0 L956.4,278.6 L956.9,306.8 L957.4,279.5 L957.9,291.1 L958.3,273.6 L958.8,293.4" stroke="#d9541e" stroke-width="2.45"/>
<g class="s"><text x="685.6" y="354.7" text-anchor="middle">500</text>
<text x="767.0" y="354.7" text-anchor="middle">1000</text>
<text x="848.3" y="354.7" text-anchor="middle">1500</text>
<text x="929.7" y="354.7" text-anchor="middle">2000</text>
<text x="1011.1" y="354.7" text-anchor="middle">2500</text><text x="600.1" y="346.9" text-anchor="end">0</text>
<text x="600.1" y="325.2" text-anchor="end">0.2</text>
<text x="600.1" y="303.4" text-anchor="end">0.4</text>
<text x="600.1" y="281.7" text-anchor="end">0.6</text>
<text x="600.1" y="259.9" text-anchor="end">0.8</text>
<text x="600.1" y="238.2" text-anchor="end">1</text>
</g><g class="l"><text x="788.6" y="365.4">Data points</text>
<text transform="translate(584.6,306.0) rotate(-90)" textLength="39.3" lengthAdjust="spacing">Amplitude</text></g>
<rect x="893.6" y="237.1" width="105.1" height="21.9" fill="#fff" stroke="#1c1919" stroke-width="1.8"/>
<path d="M895.5,243.3H924.5" stroke="#0f73bc" stroke-width="2"/><path d="M895.5,253.2H924.5" stroke="#d9541e" stroke-width="2"/>
<g class="s"><text x="930.1" y="246.5" textLength="30" lengthAdjust="spacingAndGlyphs">raw data</text><text x="928.9" y="256.9" textLength="64.2" lengthAdjust="spacingAndGlyphs">reconstructed data</text></g>
</g>
<g id="arrows">
<path d="M519.9,78.1L730.1,205.6" stroke="#1c1919" stroke-width="2.6" fill="none"/><path d="M735.2,208.7L725.1,206.5L727.8,204.2L728.6,200.7Z" fill="#1c1919"/>
<path d="M525.6,501L724.1,378.7" stroke="#1c1919" stroke-width="2.6" fill="none"/><path d="M729.2,375.6L722.6,383.6L721.9,380.1L719.1,377.8Z" fill="#1c1919"/>
<path d="M70.3,83.6C68.9,84.8 65.0,87.9 61.9,90.8C58.8,93.7 55.0,97.3 51.5,101.1C48.0,104.9 44.3,109.5 41.2,113.5C38.1,117.5 35.7,121.1 33.0,125.4C30.3,129.8 27.2,135.4 25.0,139.6C22.8,143.8 21.2,146.8 19.6,150.3C18.0,153.8 16.6,157.2 15.5,160.6C14.4,164.0 13.5,167.5 12.9,170.9C12.3,174.3 11.9,178.1 11.7,181.2C11.4,184.3 11.4,186.4 11.6,189.5C11.7,192.6 12.0,196.2 12.5,199.7C13.0,203.2 13.6,206.8 14.4,210.3C15.2,213.8 16.2,217.2 17.5,220.6C18.8,224.0 20.5,227.5 22.2,230.9C23.9,234.3 25.8,237.9 27.8,241.2C29.9,244.5 32.3,247.5 34.5,250.5C36.7,253.5 38.8,256.4 41.0,259.1C43.2,261.8 45.3,264.0 47.5,266.6C49.7,269.2 53.1,273.3 54.2,274.6" stroke="#1c1919" stroke-width="2.6" fill="none" stroke-linecap="butt"/>
<path d="M61.9,283.8L50.9,278.4L54.4,276.0L57.1,272.5Z" fill="#1c1919"/>
<path d="M60.8,305.7C59.2,307.0 54.8,310.4 51.5,313.4C48.2,316.4 44.6,319.9 41.2,323.7C37.8,327.5 34.0,332.1 30.9,336.1C27.8,340.1 25.1,344.0 22.7,347.9C20.3,351.8 18.3,356.0 16.4,359.7C14.5,363.4 12.8,366.8 11.3,370.3C9.8,373.8 8.4,377.2 7.2,380.6C6.0,384.0 4.9,387.5 4.1,390.9C3.3,394.3 2.7,398.1 2.3,401.2C1.9,404.3 1.8,406.4 1.9,409.5C1.9,412.6 2.2,416.2 2.6,419.7C3.0,423.2 3.5,426.8 4.3,430.3C5.1,433.8 6.1,437.2 7.4,440.6C8.7,444.0 10.3,447.5 11.9,450.9C13.5,454.3 15.3,458.2 17.0,461.2C18.7,464.2 20.3,466.3 22.0,468.8C23.7,471.3 25.1,473.7 27.0,476.3C28.9,478.9 31.0,481.7 33.2,484.4C35.4,487.1 38.4,490.3 40.2,492.5C42.1,494.7 43.6,496.7 44.3,497.5" stroke="#1c1919" stroke-width="2.6" fill="none" stroke-linecap="butt"/>
<path d="M51.9,506.5L41.0,500.6L44.6,498.4L47.3,495.0Z" fill="#1c1919"/>
</g>
</svg></body></html>
